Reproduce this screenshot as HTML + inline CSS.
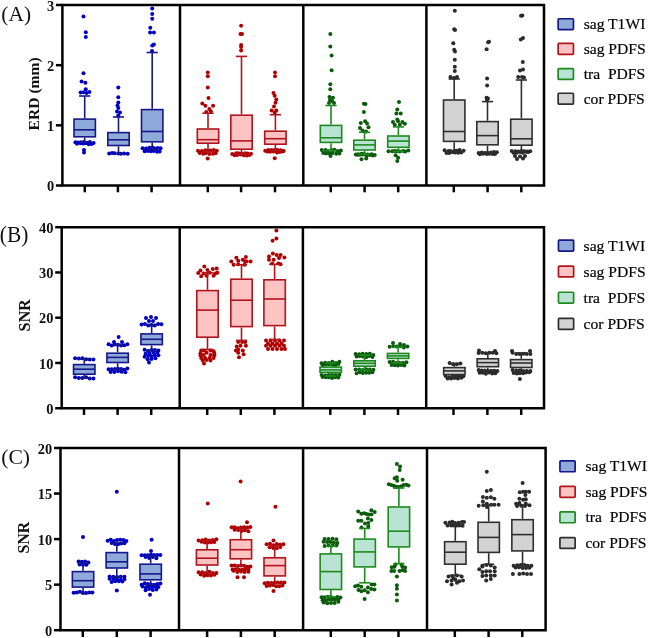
<!DOCTYPE html>
<html><head><meta charset="utf-8"><style>
html,body{margin:0;padding:0;background:#fff;}
body{width:649px;height:638px;overflow:hidden;}
svg{display:block;will-change:transform;}
.tl{font-family:"Liberation Serif",serif;font-weight:bold;font-size:14.4px;text-anchor:end;fill:#111;}
.lg{font-family:"Liberation Serif",serif;font-size:15.6px;fill:#000;stroke:#000;stroke-width:0.2px;}
.pl{font-family:"Liberation Serif",serif;font-size:21px;fill:#111;}
.yt{font-family:"Liberation Serif",serif;font-weight:bold;font-size:15.6px;fill:#111;text-anchor:middle;}
</style></head><body>
<svg width="649" height="638" viewBox="0 0 649 638">
<path d="M62.40,5.00 H544.00 V185.50 H62.40 Z" fill="none" stroke="#000" stroke-width="2.5"/>
<line x1="180.00" y1="5.00" x2="180.00" y2="185.50" stroke="#000" stroke-width="2.5"/>
<line x1="303.30" y1="5.00" x2="303.30" y2="185.50" stroke="#000" stroke-width="2.5"/>
<line x1="426.40" y1="5.00" x2="426.40" y2="185.50" stroke="#000" stroke-width="2.5"/>
<line x1="55.90" y1="185.50" x2="62.40" y2="185.50" stroke="#000" stroke-width="2.5"/>
<text x="54.10" y="191.10" class="tl">0</text>
<line x1="55.90" y1="125.33" x2="62.40" y2="125.33" stroke="#000" stroke-width="2.5"/>
<text x="54.10" y="130.93" class="tl">1</text>
<line x1="55.90" y1="65.17" x2="62.40" y2="65.17" stroke="#000" stroke-width="2.5"/>
<text x="54.10" y="70.77" class="tl">2</text>
<line x1="55.90" y1="5.00" x2="62.40" y2="5.00" stroke="#000" stroke-width="2.5"/>
<text x="54.10" y="10.60" class="tl">3</text>
<line x1="84.80" y1="185.50" x2="84.80" y2="192.30" stroke="#000" stroke-width="2.5"/>
<line x1="117.90" y1="185.50" x2="117.90" y2="192.30" stroke="#000" stroke-width="2.5"/>
<line x1="151.60" y1="185.50" x2="151.60" y2="192.30" stroke="#000" stroke-width="2.5"/>
<line x1="207.80" y1="185.50" x2="207.80" y2="192.30" stroke="#000" stroke-width="2.5"/>
<line x1="241.10" y1="185.50" x2="241.10" y2="192.30" stroke="#000" stroke-width="2.5"/>
<line x1="275.00" y1="185.50" x2="275.00" y2="192.30" stroke="#000" stroke-width="2.5"/>
<line x1="330.80" y1="185.50" x2="330.80" y2="192.30" stroke="#000" stroke-width="2.5"/>
<line x1="364.60" y1="185.50" x2="364.60" y2="192.30" stroke="#000" stroke-width="2.5"/>
<line x1="398.20" y1="185.50" x2="398.20" y2="192.30" stroke="#000" stroke-width="2.5"/>
<line x1="453.80" y1="185.50" x2="453.80" y2="192.30" stroke="#000" stroke-width="2.5"/>
<line x1="487.60" y1="185.50" x2="487.60" y2="192.30" stroke="#000" stroke-width="2.5"/>
<line x1="521.30" y1="185.50" x2="521.30" y2="192.30" stroke="#000" stroke-width="2.5"/>
<text transform="translate(1.3,20.9) scale(1.02,1.03)" class="pl">(A)</text>
<text transform="translate(39.3,93.8) rotate(-90)" x="0" y="0" class="yt">ERD (mm)</text>
<rect x="558.15" y="18.75" width="15.30" height="10.9" rx="0.8" fill="#8eaad8" stroke="#17178c" stroke-width="1.7"/>
<text x="583.70" y="29.30" class="lg">sag T1WI</text>
<rect x="558.15" y="43.45" width="15.30" height="10.9" rx="0.8" fill="#fdc2c2" stroke="#b0141c" stroke-width="1.7"/>
<text x="583.70" y="54.00" class="lg">sag PDFS</text>
<rect x="558.15" y="68.55" width="15.30" height="10.9" rx="0.8" fill="#b9e3d3" stroke="#1e8a1e" stroke-width="1.7"/>
<text x="583.70" y="79.10" class="lg">tra&#160; PDFS</text>
<rect x="558.15" y="93.25" width="15.30" height="10.9" rx="0.8" fill="#d3d3d3" stroke="#2f2f2f" stroke-width="1.7"/>
<text x="583.70" y="103.80" class="lg">cor PDFS</text>
<circle cx="83.5" cy="16.4" r="2.0" fill="#0000c4"/><circle cx="85.8" cy="32.3" r="2.0" fill="#0000c4"/><circle cx="85.8" cy="37.0" r="2.0" fill="#0000c4"/><circle cx="83.5" cy="73.3" r="2.0" fill="#0000c4"/><circle cx="81.6" cy="81.4" r="2.0" fill="#0000c4"/><circle cx="85.4" cy="82.8" r="2.0" fill="#0000c4"/><circle cx="85.8" cy="89.3" r="2.0" fill="#0000c4"/><circle cx="80.6" cy="92.5" r="2.0" fill="#0000c4"/><circle cx="83.5" cy="92.2" r="2.0" fill="#0000c4"/><circle cx="86.5" cy="93.0" r="2.0" fill="#0000c4"/><circle cx="89.4" cy="92.1" r="2.0" fill="#0000c4"/><circle cx="75.4" cy="142.2" r="2.0" fill="#0000c4"/><circle cx="77.9" cy="142.4" r="2.0" fill="#0000c4"/><circle cx="80.8" cy="142.3" r="2.0" fill="#0000c4"/><circle cx="83.9" cy="141.9" r="2.0" fill="#0000c4"/><circle cx="87.3" cy="142.8" r="2.0" fill="#0000c4"/><circle cx="89.9" cy="142.1" r="2.0" fill="#0000c4"/><circle cx="93.6" cy="142.9" r="2.0" fill="#0000c4"/><circle cx="77.0" cy="143.7" r="2.0" fill="#0000c4"/><circle cx="80.5" cy="143.3" r="2.0" fill="#0000c4"/><circle cx="83.3" cy="143.5" r="2.0" fill="#0000c4"/><circle cx="85.5" cy="143.3" r="2.0" fill="#0000c4"/><circle cx="88.7" cy="144.2" r="2.0" fill="#0000c4"/><circle cx="91.5" cy="143.9" r="2.0" fill="#0000c4"/><circle cx="84.0" cy="150.0" r="2.0" fill="#0000c4"/><circle cx="84.0" cy="152.5" r="2.0" fill="#0000c4"/>
<line x1="84.70" y1="96.00" x2="84.70" y2="118.30" stroke="#17178c" stroke-width="1.6"/>
<line x1="84.70" y1="137.60" x2="84.70" y2="142.00" stroke="#17178c" stroke-width="1.6"/>
<line x1="79.10" y1="96.00" x2="90.30" y2="96.00" stroke="#17178c" stroke-width="1.6"/>
<line x1="79.10" y1="142.00" x2="90.30" y2="142.00" stroke="#17178c" stroke-width="1.6"/>
<rect x="74.00" y="119.10" width="21.40" height="17.70" fill="#8eaad8" stroke="#17178c" stroke-width="1.6"/>
<line x1="74.00" y1="129.80" x2="95.40" y2="129.80" stroke="#17178c" stroke-width="1.6"/>
<circle cx="118.3" cy="87.5" r="2.0" fill="#0000c4"/><circle cx="118.3" cy="97.2" r="2.0" fill="#0000c4"/><circle cx="118.3" cy="102.5" r="2.0" fill="#0000c4"/><circle cx="117.5" cy="105.5" r="2.0" fill="#0000c4"/><circle cx="118.3" cy="108.0" r="2.0" fill="#0000c4"/><circle cx="117.0" cy="111.5" r="2.0" fill="#0000c4"/><circle cx="120.0" cy="112.5" r="2.0" fill="#0000c4"/><circle cx="118.3" cy="115.5" r="2.0" fill="#0000c4"/><circle cx="109.2" cy="153.4" r="2.0" fill="#0000c4"/><circle cx="112.1" cy="153.1" r="2.0" fill="#0000c4"/><circle cx="114.6" cy="153.2" r="2.0" fill="#0000c4"/><circle cx="118.4" cy="153.5" r="2.0" fill="#0000c4"/><circle cx="121.0" cy="153.7" r="2.0" fill="#0000c4"/><circle cx="124.2" cy="153.4" r="2.0" fill="#0000c4"/><circle cx="127.7" cy="153.8" r="2.0" fill="#0000c4"/>
<line x1="118.50" y1="117.00" x2="118.50" y2="131.80" stroke="#17178c" stroke-width="1.6"/>
<line x1="118.50" y1="146.30" x2="118.50" y2="153.70" stroke="#17178c" stroke-width="1.6"/>
<line x1="112.90" y1="117.00" x2="124.10" y2="117.00" stroke="#17178c" stroke-width="1.6"/>
<line x1="112.90" y1="153.70" x2="124.10" y2="153.70" stroke="#17178c" stroke-width="1.6"/>
<rect x="107.80" y="132.60" width="21.40" height="12.90" fill="#8eaad8" stroke="#17178c" stroke-width="1.6"/>
<line x1="107.80" y1="139.80" x2="129.20" y2="139.80" stroke="#17178c" stroke-width="1.6"/>
<circle cx="152.2" cy="8.5" r="2.0" fill="#0000c4"/><circle cx="152.2" cy="14.1" r="2.0" fill="#0000c4"/><circle cx="152.2" cy="18.8" r="2.0" fill="#0000c4"/><circle cx="150.3" cy="27.8" r="2.0" fill="#0000c4"/><circle cx="150.1" cy="32.5" r="2.0" fill="#0000c4"/><circle cx="153.9" cy="32.5" r="2.0" fill="#0000c4"/><circle cx="152.3" cy="45.4" r="2.0" fill="#0000c4"/><circle cx="153.9" cy="44.5" r="2.0" fill="#0000c4"/><circle cx="152.0" cy="51.1" r="2.0" fill="#0000c4"/><circle cx="142.6" cy="148.2" r="2.0" fill="#0000c4"/><circle cx="146.0" cy="148.6" r="2.0" fill="#0000c4"/><circle cx="149.3" cy="147.8" r="2.0" fill="#0000c4"/><circle cx="152.6" cy="147.6" r="2.0" fill="#0000c4"/><circle cx="155.0" cy="148.4" r="2.0" fill="#0000c4"/><circle cx="157.7" cy="148.1" r="2.0" fill="#0000c4"/><circle cx="160.6" cy="148.3" r="2.0" fill="#0000c4"/><circle cx="144.7" cy="151.3" r="2.0" fill="#0000c4"/><circle cx="147.9" cy="151.0" r="2.0" fill="#0000c4"/><circle cx="150.8" cy="151.3" r="2.0" fill="#0000c4"/><circle cx="153.7" cy="151.1" r="2.0" fill="#0000c4"/><circle cx="157.0" cy="151.7" r="2.0" fill="#0000c4"/><circle cx="159.6" cy="151.4" r="2.0" fill="#0000c4"/>
<line x1="152.20" y1="52.50" x2="152.20" y2="108.80" stroke="#17178c" stroke-width="1.6"/>
<line x1="152.20" y1="142.60" x2="152.20" y2="149.60" stroke="#17178c" stroke-width="1.6"/>
<line x1="146.60" y1="52.50" x2="157.80" y2="52.50" stroke="#17178c" stroke-width="1.6"/>
<line x1="146.60" y1="149.60" x2="157.80" y2="149.60" stroke="#17178c" stroke-width="1.6"/>
<rect x="141.50" y="109.60" width="21.40" height="32.20" fill="#8eaad8" stroke="#17178c" stroke-width="1.6"/>
<line x1="141.50" y1="131.50" x2="162.90" y2="131.50" stroke="#17178c" stroke-width="1.6"/>
<circle cx="207.8" cy="72.4" r="2.0" fill="#b00000"/><circle cx="207.8" cy="76.2" r="2.0" fill="#b00000"/><circle cx="207.8" cy="87.5" r="2.0" fill="#b00000"/><circle cx="208.5" cy="98.1" r="2.0" fill="#b00000"/><circle cx="202.3" cy="103.5" r="2.0" fill="#b00000"/><circle cx="205.4" cy="105.8" r="2.0" fill="#b00000"/><circle cx="213.1" cy="105.8" r="2.0" fill="#b00000"/><circle cx="209.3" cy="108.9" r="2.0" fill="#b00000"/><circle cx="206.2" cy="112.0" r="2.0" fill="#b00000"/><circle cx="210.8" cy="111.2" r="2.0" fill="#b00000"/><circle cx="198.0" cy="150.7" r="2.0" fill="#b00000"/><circle cx="201.8" cy="151.1" r="2.0" fill="#b00000"/><circle cx="205.2" cy="150.2" r="2.0" fill="#b00000"/><circle cx="207.8" cy="150.7" r="2.0" fill="#b00000"/><circle cx="210.5" cy="150.5" r="2.0" fill="#b00000"/><circle cx="213.8" cy="150.0" r="2.0" fill="#b00000"/><circle cx="216.8" cy="150.8" r="2.0" fill="#b00000"/><circle cx="199.6" cy="153.1" r="2.0" fill="#b00000"/><circle cx="203.1" cy="153.8" r="2.0" fill="#b00000"/><circle cx="205.8" cy="153.3" r="2.0" fill="#b00000"/><circle cx="209.5" cy="153.9" r="2.0" fill="#b00000"/><circle cx="213.0" cy="153.8" r="2.0" fill="#b00000"/><circle cx="215.5" cy="153.3" r="2.0" fill="#b00000"/><circle cx="207.7" cy="158.5" r="2.0" fill="#b00000"/>
<line x1="208.00" y1="113.20" x2="208.00" y2="128.20" stroke="#b0141c" stroke-width="1.6"/>
<line x1="208.00" y1="144.00" x2="208.00" y2="151.50" stroke="#b0141c" stroke-width="1.6"/>
<line x1="202.40" y1="113.20" x2="213.60" y2="113.20" stroke="#b0141c" stroke-width="1.6"/>
<line x1="202.40" y1="151.50" x2="213.60" y2="151.50" stroke="#b0141c" stroke-width="1.6"/>
<rect x="197.30" y="129.00" width="21.40" height="14.20" fill="#fdc2c2" stroke="#b0141c" stroke-width="1.6"/>
<line x1="197.30" y1="139.70" x2="218.70" y2="139.70" stroke="#b0141c" stroke-width="1.6"/>
<circle cx="241.1" cy="25.8" r="2.0" fill="#b00000"/><circle cx="240.5" cy="33.9" r="2.0" fill="#b00000"/><circle cx="242.0" cy="34.0" r="2.0" fill="#b00000"/><circle cx="241.1" cy="45.1" r="2.0" fill="#b00000"/><circle cx="241.1" cy="47.0" r="2.0" fill="#b00000"/><circle cx="241.1" cy="50.4" r="2.0" fill="#b00000"/><circle cx="232.2" cy="154.1" r="2.0" fill="#b00000"/><circle cx="236.1" cy="153.2" r="2.0" fill="#b00000"/><circle cx="238.3" cy="153.3" r="2.0" fill="#b00000"/><circle cx="241.5" cy="153.6" r="2.0" fill="#b00000"/><circle cx="245.0" cy="153.3" r="2.0" fill="#b00000"/><circle cx="247.5" cy="153.5" r="2.0" fill="#b00000"/><circle cx="251.0" cy="153.7" r="2.0" fill="#b00000"/><circle cx="234.5" cy="155.2" r="2.0" fill="#b00000"/><circle cx="237.1" cy="155.1" r="2.0" fill="#b00000"/><circle cx="240.4" cy="154.5" r="2.0" fill="#b00000"/><circle cx="243.8" cy="155.3" r="2.0" fill="#b00000"/><circle cx="246.9" cy="155.4" r="2.0" fill="#b00000"/><circle cx="249.5" cy="154.9" r="2.0" fill="#b00000"/>
<line x1="241.50" y1="56.40" x2="241.50" y2="114.40" stroke="#b0141c" stroke-width="1.6"/>
<line x1="241.50" y1="150.00" x2="241.50" y2="154.30" stroke="#b0141c" stroke-width="1.6"/>
<line x1="235.90" y1="56.40" x2="247.10" y2="56.40" stroke="#b0141c" stroke-width="1.6"/>
<line x1="235.90" y1="154.30" x2="247.10" y2="154.30" stroke="#b0141c" stroke-width="1.6"/>
<rect x="230.80" y="115.20" width="21.40" height="34.00" fill="#fdc2c2" stroke="#b0141c" stroke-width="1.6"/>
<line x1="230.80" y1="140.90" x2="252.20" y2="140.90" stroke="#b0141c" stroke-width="1.6"/>
<circle cx="275.0" cy="72.4" r="2.0" fill="#b00000"/><circle cx="275.0" cy="76.2" r="2.0" fill="#b00000"/><circle cx="273.5" cy="93.1" r="2.0" fill="#b00000"/><circle cx="274.7" cy="95.8" r="2.0" fill="#b00000"/><circle cx="276.3" cy="99.6" r="2.0" fill="#b00000"/><circle cx="275.5" cy="102.7" r="2.0" fill="#b00000"/><circle cx="274.0" cy="106.6" r="2.0" fill="#b00000"/><circle cx="271.7" cy="110.4" r="2.0" fill="#b00000"/><circle cx="276.3" cy="110.4" r="2.0" fill="#b00000"/><circle cx="274.7" cy="112.7" r="2.0" fill="#b00000"/><circle cx="265.2" cy="150.7" r="2.0" fill="#b00000"/><circle cx="268.3" cy="150.0" r="2.0" fill="#b00000"/><circle cx="271.6" cy="150.1" r="2.0" fill="#b00000"/><circle cx="274.8" cy="150.0" r="2.0" fill="#b00000"/><circle cx="277.5" cy="150.1" r="2.0" fill="#b00000"/><circle cx="280.7" cy="150.3" r="2.0" fill="#b00000"/><circle cx="283.7" cy="150.9" r="2.0" fill="#b00000"/><circle cx="267.4" cy="151.5" r="2.0" fill="#b00000"/><circle cx="270.1" cy="151.7" r="2.0" fill="#b00000"/><circle cx="273.3" cy="151.4" r="2.0" fill="#b00000"/><circle cx="277.0" cy="152.5" r="2.0" fill="#b00000"/><circle cx="279.6" cy="151.9" r="2.0" fill="#b00000"/><circle cx="282.3" cy="151.4" r="2.0" fill="#b00000"/><circle cx="274.7" cy="158.2" r="2.0" fill="#b00000"/>
<line x1="275.40" y1="114.70" x2="275.40" y2="130.40" stroke="#b0141c" stroke-width="1.6"/>
<line x1="275.40" y1="145.00" x2="275.40" y2="150.50" stroke="#b0141c" stroke-width="1.6"/>
<line x1="269.80" y1="114.70" x2="281.00" y2="114.70" stroke="#b0141c" stroke-width="1.6"/>
<line x1="269.80" y1="150.50" x2="281.00" y2="150.50" stroke="#b0141c" stroke-width="1.6"/>
<rect x="264.70" y="131.20" width="21.40" height="13.00" fill="#fdc2c2" stroke="#b0141c" stroke-width="1.6"/>
<line x1="264.70" y1="138.70" x2="286.10" y2="138.70" stroke="#b0141c" stroke-width="1.6"/>
<circle cx="330.3" cy="33.9" r="2.0" fill="#0b5c0b"/><circle cx="330.3" cy="46.6" r="2.0" fill="#0b5c0b"/><circle cx="331.6" cy="55.5" r="2.0" fill="#0b5c0b"/><circle cx="331.6" cy="70.2" r="2.0" fill="#0b5c0b"/><circle cx="330.3" cy="84.3" r="2.0" fill="#0b5c0b"/><circle cx="330.3" cy="89.3" r="2.0" fill="#0b5c0b"/><circle cx="329.5" cy="96.9" r="2.0" fill="#0b5c0b"/><circle cx="333.0" cy="97.8" r="2.0" fill="#0b5c0b"/><circle cx="330.0" cy="100.0" r="2.0" fill="#0b5c0b"/><circle cx="332.0" cy="101.0" r="2.0" fill="#0b5c0b"/><circle cx="329.0" cy="103.0" r="2.0" fill="#0b5c0b"/><circle cx="334.0" cy="103.0" r="2.0" fill="#0b5c0b"/><circle cx="321.8" cy="150.1" r="2.0" fill="#0b5c0b"/><circle cx="325.5" cy="150.0" r="2.0" fill="#0b5c0b"/><circle cx="327.6" cy="150.9" r="2.0" fill="#0b5c0b"/><circle cx="331.3" cy="150.0" r="2.0" fill="#0b5c0b"/><circle cx="334.4" cy="149.8" r="2.0" fill="#0b5c0b"/><circle cx="337.5" cy="151.0" r="2.0" fill="#0b5c0b"/><circle cx="340.9" cy="150.6" r="2.0" fill="#0b5c0b"/><circle cx="323.3" cy="153.0" r="2.0" fill="#0b5c0b"/><circle cx="326.2" cy="153.5" r="2.0" fill="#0b5c0b"/><circle cx="329.7" cy="153.5" r="2.0" fill="#0b5c0b"/><circle cx="332.6" cy="152.9" r="2.0" fill="#0b5c0b"/><circle cx="336.2" cy="153.8" r="2.0" fill="#0b5c0b"/><circle cx="339.4" cy="153.6" r="2.0" fill="#0b5c0b"/><circle cx="330.5" cy="156.0" r="2.0" fill="#0b5c0b"/>
<line x1="331.00" y1="105.50" x2="331.00" y2="124.60" stroke="#1e8a1e" stroke-width="1.6"/>
<line x1="331.00" y1="143.20" x2="331.00" y2="150.50" stroke="#1e8a1e" stroke-width="1.6"/>
<line x1="325.40" y1="105.50" x2="336.60" y2="105.50" stroke="#1e8a1e" stroke-width="1.6"/>
<line x1="325.40" y1="150.50" x2="336.60" y2="150.50" stroke="#1e8a1e" stroke-width="1.6"/>
<rect x="320.30" y="125.40" width="21.40" height="17.00" fill="#b9e3d3" stroke="#1e8a1e" stroke-width="1.6"/>
<line x1="320.30" y1="137.80" x2="341.70" y2="137.80" stroke="#1e8a1e" stroke-width="1.6"/>
<circle cx="363.9" cy="103.8" r="2.0" fill="#0b5c0b"/><circle cx="365.5" cy="104.0" r="2.0" fill="#0b5c0b"/><circle cx="363.9" cy="112.0" r="2.0" fill="#0b5c0b"/><circle cx="365.1" cy="121.3" r="2.0" fill="#0b5c0b"/><circle cx="360.8" cy="123.0" r="2.0" fill="#0b5c0b"/><circle cx="367.0" cy="123.5" r="2.0" fill="#0b5c0b"/><circle cx="368.5" cy="127.2" r="2.0" fill="#0b5c0b"/><circle cx="360.0" cy="128.0" r="2.0" fill="#0b5c0b"/><circle cx="362.5" cy="130.6" r="2.0" fill="#0b5c0b"/><circle cx="366.0" cy="131.4" r="2.0" fill="#0b5c0b"/><circle cx="355.8" cy="154.6" r="2.0" fill="#0b5c0b"/><circle cx="358.2" cy="154.3" r="2.0" fill="#0b5c0b"/><circle cx="361.5" cy="153.7" r="2.0" fill="#0b5c0b"/><circle cx="364.2" cy="154.0" r="2.0" fill="#0b5c0b"/><circle cx="367.6" cy="154.5" r="2.0" fill="#0b5c0b"/><circle cx="371.6" cy="154.2" r="2.0" fill="#0b5c0b"/><circle cx="374.7" cy="154.9" r="2.0" fill="#0b5c0b"/><circle cx="357.5" cy="154.8" r="2.0" fill="#0b5c0b"/><circle cx="359.8" cy="154.7" r="2.0" fill="#0b5c0b"/><circle cx="362.9" cy="154.6" r="2.0" fill="#0b5c0b"/><circle cx="366.5" cy="155.5" r="2.0" fill="#0b5c0b"/><circle cx="369.9" cy="155.0" r="2.0" fill="#0b5c0b"/><circle cx="372.8" cy="155.4" r="2.0" fill="#0b5c0b"/><circle cx="361.5" cy="159.3" r="2.0" fill="#0b5c0b"/><circle cx="366.2" cy="158.5" r="2.0" fill="#0b5c0b"/>
<line x1="364.50" y1="132.30" x2="364.50" y2="139.40" stroke="#1e8a1e" stroke-width="1.6"/>
<line x1="364.50" y1="150.80" x2="364.50" y2="154.30" stroke="#1e8a1e" stroke-width="1.6"/>
<line x1="358.90" y1="132.30" x2="370.10" y2="132.30" stroke="#1e8a1e" stroke-width="1.6"/>
<line x1="358.90" y1="154.30" x2="370.10" y2="154.30" stroke="#1e8a1e" stroke-width="1.6"/>
<rect x="353.80" y="140.20" width="21.40" height="9.80" fill="#b9e3d3" stroke="#1e8a1e" stroke-width="1.6"/>
<line x1="353.80" y1="144.90" x2="375.20" y2="144.90" stroke="#1e8a1e" stroke-width="1.6"/>
<circle cx="399.0" cy="102.1" r="2.0" fill="#0b5c0b"/><circle cx="397.3" cy="109.4" r="2.0" fill="#0b5c0b"/><circle cx="396.4" cy="113.6" r="2.0" fill="#0b5c0b"/><circle cx="400.7" cy="113.6" r="2.0" fill="#0b5c0b"/><circle cx="393.0" cy="122.1" r="2.0" fill="#0b5c0b"/><circle cx="398.1" cy="121.3" r="2.0" fill="#0b5c0b"/><circle cx="402.4" cy="122.1" r="2.0" fill="#0b5c0b"/><circle cx="394.7" cy="124.7" r="2.0" fill="#0b5c0b"/><circle cx="399.8" cy="124.7" r="2.0" fill="#0b5c0b"/><circle cx="404.9" cy="123.8" r="2.0" fill="#0b5c0b"/><circle cx="397.3" cy="119.6" r="2.0" fill="#0b5c0b"/><circle cx="388.5" cy="151.2" r="2.0" fill="#0b5c0b"/><circle cx="392.2" cy="151.3" r="2.0" fill="#0b5c0b"/><circle cx="394.7" cy="151.0" r="2.0" fill="#0b5c0b"/><circle cx="396.8" cy="151.3" r="2.0" fill="#0b5c0b"/><circle cx="399.7" cy="151.4" r="2.0" fill="#0b5c0b"/><circle cx="403.1" cy="150.9" r="2.0" fill="#0b5c0b"/><circle cx="405.2" cy="151.5" r="2.0" fill="#0b5c0b"/><circle cx="408.3" cy="150.6" r="2.0" fill="#0b5c0b"/><circle cx="395.6" cy="155.2" r="2.0" fill="#0b5c0b"/><circle cx="398.1" cy="157.7" r="2.0" fill="#0b5c0b"/><circle cx="397.3" cy="161.1" r="2.0" fill="#0b5c0b"/>
<line x1="398.40" y1="126.90" x2="398.40" y2="135.20" stroke="#1e8a1e" stroke-width="1.6"/>
<line x1="398.40" y1="148.10" x2="398.40" y2="151.50" stroke="#1e8a1e" stroke-width="1.6"/>
<line x1="392.80" y1="126.90" x2="404.00" y2="126.90" stroke="#1e8a1e" stroke-width="1.6"/>
<line x1="392.80" y1="151.50" x2="404.00" y2="151.50" stroke="#1e8a1e" stroke-width="1.6"/>
<rect x="387.70" y="136.00" width="21.40" height="11.30" fill="#b9e3d3" stroke="#1e8a1e" stroke-width="1.6"/>
<line x1="387.70" y1="141.10" x2="409.10" y2="141.10" stroke="#1e8a1e" stroke-width="1.6"/>
<circle cx="454.8" cy="10.7" r="2.0" fill="#2b2b2b"/><circle cx="454.2" cy="29.2" r="2.0" fill="#2b2b2b"/><circle cx="455.0" cy="30.0" r="2.0" fill="#2b2b2b"/><circle cx="453.3" cy="43.3" r="2.0" fill="#2b2b2b"/><circle cx="454.2" cy="49.8" r="2.0" fill="#2b2b2b"/><circle cx="455.0" cy="51.5" r="2.0" fill="#2b2b2b"/><circle cx="454.8" cy="59.8" r="2.0" fill="#2b2b2b"/><circle cx="454.8" cy="66.8" r="2.0" fill="#2b2b2b"/><circle cx="454.8" cy="71.1" r="2.0" fill="#2b2b2b"/><circle cx="450.5" cy="77.1" r="2.0" fill="#2b2b2b"/><circle cx="457.0" cy="77.1" r="2.0" fill="#2b2b2b"/><circle cx="454.0" cy="78.0" r="2.0" fill="#2b2b2b"/><circle cx="444.6" cy="150.2" r="2.0" fill="#2b2b2b"/><circle cx="448.5" cy="151.0" r="2.0" fill="#2b2b2b"/><circle cx="450.6" cy="151.0" r="2.0" fill="#2b2b2b"/><circle cx="454.6" cy="150.8" r="2.0" fill="#2b2b2b"/><circle cx="456.8" cy="150.7" r="2.0" fill="#2b2b2b"/><circle cx="459.6" cy="150.0" r="2.0" fill="#2b2b2b"/><circle cx="463.6" cy="150.8" r="2.0" fill="#2b2b2b"/><circle cx="446.5" cy="153.1" r="2.0" fill="#2b2b2b"/><circle cx="449.4" cy="153.0" r="2.0" fill="#2b2b2b"/><circle cx="452.9" cy="152.3" r="2.0" fill="#2b2b2b"/><circle cx="455.2" cy="152.4" r="2.0" fill="#2b2b2b"/><circle cx="458.2" cy="152.7" r="2.0" fill="#2b2b2b"/><circle cx="461.2" cy="152.5" r="2.0" fill="#2b2b2b"/>
<line x1="454.20" y1="79.00" x2="454.20" y2="99.20" stroke="#2f2f2f" stroke-width="1.6"/>
<line x1="454.20" y1="142.20" x2="454.20" y2="151.10" stroke="#2f2f2f" stroke-width="1.6"/>
<line x1="448.60" y1="79.00" x2="459.80" y2="79.00" stroke="#2f2f2f" stroke-width="1.6"/>
<line x1="448.60" y1="151.10" x2="459.80" y2="151.10" stroke="#2f2f2f" stroke-width="1.6"/>
<rect x="443.50" y="100.00" width="21.40" height="41.40" fill="#d3d3d3" stroke="#2f2f2f" stroke-width="1.6"/>
<line x1="443.50" y1="131.50" x2="464.90" y2="131.50" stroke="#2f2f2f" stroke-width="1.6"/>
<circle cx="488.1" cy="42.3" r="2.0" fill="#2b2b2b"/><circle cx="489.0" cy="41.8" r="2.0" fill="#2b2b2b"/><circle cx="486.6" cy="49.3" r="2.0" fill="#2b2b2b"/><circle cx="487.1" cy="78.6" r="2.0" fill="#2b2b2b"/><circle cx="487.1" cy="85.6" r="2.0" fill="#2b2b2b"/><circle cx="486.5" cy="97.8" r="2.0" fill="#2b2b2b"/><circle cx="488.0" cy="98.5" r="2.0" fill="#2b2b2b"/><circle cx="487.0" cy="100.0" r="2.0" fill="#2b2b2b"/><circle cx="478.6" cy="153.1" r="2.0" fill="#2b2b2b"/><circle cx="481.8" cy="152.5" r="2.0" fill="#2b2b2b"/><circle cx="485.1" cy="153.1" r="2.0" fill="#2b2b2b"/><circle cx="487.9" cy="153.1" r="2.0" fill="#2b2b2b"/><circle cx="491.0" cy="152.6" r="2.0" fill="#2b2b2b"/><circle cx="494.0" cy="152.0" r="2.0" fill="#2b2b2b"/><circle cx="496.9" cy="152.2" r="2.0" fill="#2b2b2b"/><circle cx="479.9" cy="154.2" r="2.0" fill="#2b2b2b"/><circle cx="483.1" cy="153.8" r="2.0" fill="#2b2b2b"/><circle cx="486.8" cy="153.9" r="2.0" fill="#2b2b2b"/><circle cx="489.3" cy="153.8" r="2.0" fill="#2b2b2b"/><circle cx="492.6" cy="154.1" r="2.0" fill="#2b2b2b"/><circle cx="495.0" cy="153.9" r="2.0" fill="#2b2b2b"/>
<line x1="487.50" y1="101.60" x2="487.50" y2="120.80" stroke="#2f2f2f" stroke-width="1.6"/>
<line x1="487.50" y1="145.60" x2="487.50" y2="152.40" stroke="#2f2f2f" stroke-width="1.6"/>
<line x1="481.90" y1="101.60" x2="493.10" y2="101.60" stroke="#2f2f2f" stroke-width="1.6"/>
<line x1="481.90" y1="152.40" x2="493.10" y2="152.40" stroke="#2f2f2f" stroke-width="1.6"/>
<rect x="476.80" y="121.60" width="21.40" height="23.20" fill="#d3d3d3" stroke="#2f2f2f" stroke-width="1.6"/>
<line x1="476.80" y1="135.60" x2="498.20" y2="135.60" stroke="#2f2f2f" stroke-width="1.6"/>
<circle cx="522.3" cy="15.4" r="2.0" fill="#2b2b2b"/><circle cx="521.0" cy="15.8" r="2.0" fill="#2b2b2b"/><circle cx="520.8" cy="39.5" r="2.0" fill="#2b2b2b"/><circle cx="523.0" cy="38.0" r="2.0" fill="#2b2b2b"/><circle cx="522.8" cy="62.0" r="2.0" fill="#2b2b2b"/><circle cx="520.0" cy="70.5" r="2.0" fill="#2b2b2b"/><circle cx="523.0" cy="69.5" r="2.0" fill="#2b2b2b"/><circle cx="518.2" cy="77.1" r="2.0" fill="#2b2b2b"/><circle cx="522.0" cy="77.0" r="2.0" fill="#2b2b2b"/><circle cx="524.0" cy="77.5" r="2.0" fill="#2b2b2b"/><circle cx="511.7" cy="150.9" r="2.0" fill="#2b2b2b"/><circle cx="515.4" cy="151.2" r="2.0" fill="#2b2b2b"/><circle cx="518.2" cy="151.5" r="2.0" fill="#2b2b2b"/><circle cx="521.6" cy="151.1" r="2.0" fill="#2b2b2b"/><circle cx="524.3" cy="151.2" r="2.0" fill="#2b2b2b"/><circle cx="527.3" cy="151.4" r="2.0" fill="#2b2b2b"/><circle cx="530.2" cy="151.2" r="2.0" fill="#2b2b2b"/><circle cx="513.5" cy="152.7" r="2.0" fill="#2b2b2b"/><circle cx="516.8" cy="152.7" r="2.0" fill="#2b2b2b"/><circle cx="520.2" cy="151.9" r="2.0" fill="#2b2b2b"/><circle cx="522.7" cy="152.7" r="2.0" fill="#2b2b2b"/><circle cx="526.1" cy="151.8" r="2.0" fill="#2b2b2b"/><circle cx="528.3" cy="152.1" r="2.0" fill="#2b2b2b"/><circle cx="515.0" cy="156.0" r="2.0" fill="#2b2b2b"/><circle cx="520.0" cy="156.5" r="2.0" fill="#2b2b2b"/><circle cx="525.0" cy="156.0" r="2.0" fill="#2b2b2b"/><circle cx="517.0" cy="159.0" r="2.0" fill="#2b2b2b"/><circle cx="523.0" cy="158.5" r="2.0" fill="#2b2b2b"/>
<line x1="521.40" y1="80.00" x2="521.40" y2="118.40" stroke="#2f2f2f" stroke-width="1.6"/>
<line x1="521.40" y1="146.00" x2="521.40" y2="151.00" stroke="#2f2f2f" stroke-width="1.6"/>
<line x1="515.80" y1="80.00" x2="527.00" y2="80.00" stroke="#2f2f2f" stroke-width="1.6"/>
<line x1="515.80" y1="151.00" x2="527.00" y2="151.00" stroke="#2f2f2f" stroke-width="1.6"/>
<rect x="510.70" y="119.20" width="21.40" height="26.00" fill="#d3d3d3" stroke="#2f2f2f" stroke-width="1.6"/>
<line x1="510.70" y1="138.80" x2="532.10" y2="138.80" stroke="#2f2f2f" stroke-width="1.6"/>
<path d="M61.70,227.20 H544.00 V408.20 H61.70 Z" fill="none" stroke="#000" stroke-width="2.5"/>
<line x1="179.70" y1="227.20" x2="179.70" y2="408.20" stroke="#000" stroke-width="2.5"/>
<line x1="302.90" y1="227.20" x2="302.90" y2="408.20" stroke="#000" stroke-width="2.5"/>
<line x1="426.20" y1="227.20" x2="426.20" y2="408.20" stroke="#000" stroke-width="2.5"/>
<line x1="55.20" y1="408.20" x2="61.70" y2="408.20" stroke="#000" stroke-width="2.5"/>
<text x="53.40" y="413.80" class="tl">0</text>
<line x1="55.20" y1="362.95" x2="61.70" y2="362.95" stroke="#000" stroke-width="2.5"/>
<text x="53.40" y="368.55" class="tl">10</text>
<line x1="55.20" y1="317.70" x2="61.70" y2="317.70" stroke="#000" stroke-width="2.5"/>
<text x="53.40" y="323.30" class="tl">20</text>
<line x1="55.20" y1="272.45" x2="61.70" y2="272.45" stroke="#000" stroke-width="2.5"/>
<text x="53.40" y="278.05" class="tl">30</text>
<line x1="55.20" y1="227.20" x2="61.70" y2="227.20" stroke="#000" stroke-width="2.5"/>
<text x="53.40" y="232.80" class="tl">40</text>
<line x1="84.00" y1="408.20" x2="84.00" y2="415.00" stroke="#000" stroke-width="2.5"/>
<line x1="117.60" y1="408.20" x2="117.60" y2="415.00" stroke="#000" stroke-width="2.5"/>
<line x1="151.20" y1="408.20" x2="151.20" y2="415.00" stroke="#000" stroke-width="2.5"/>
<line x1="207.20" y1="408.20" x2="207.20" y2="415.00" stroke="#000" stroke-width="2.5"/>
<line x1="240.80" y1="408.20" x2="240.80" y2="415.00" stroke="#000" stroke-width="2.5"/>
<line x1="274.40" y1="408.20" x2="274.40" y2="415.00" stroke="#000" stroke-width="2.5"/>
<line x1="330.30" y1="408.20" x2="330.30" y2="415.00" stroke="#000" stroke-width="2.5"/>
<line x1="364.40" y1="408.20" x2="364.40" y2="415.00" stroke="#000" stroke-width="2.5"/>
<line x1="398.00" y1="408.20" x2="398.00" y2="415.00" stroke="#000" stroke-width="2.5"/>
<line x1="453.50" y1="408.20" x2="453.50" y2="415.00" stroke="#000" stroke-width="2.5"/>
<line x1="487.40" y1="408.20" x2="487.40" y2="415.00" stroke="#000" stroke-width="2.5"/>
<line x1="521.20" y1="408.20" x2="521.20" y2="415.00" stroke="#000" stroke-width="2.5"/>
<text transform="translate(-0.2,241.6) scale(1.02,1.07)" class="pl">(B)</text>
<text transform="translate(30.4,315.4) rotate(-90) scale(1.04,1.04)" x="0" y="0" class="yt">SNR</text>
<rect x="558.45" y="240.15" width="15.20" height="10.9" rx="0.8" fill="#8eaad8" stroke="#17178c" stroke-width="1.7"/>
<text x="583.60" y="250.70" class="lg">sag T1WI</text>
<rect x="558.45" y="266.05" width="15.20" height="10.9" rx="0.8" fill="#fdc2c2" stroke="#b0141c" stroke-width="1.7"/>
<text x="583.60" y="276.60" class="lg">sag PDFS</text>
<rect x="558.45" y="292.25" width="15.20" height="10.9" rx="0.8" fill="#b9e3d3" stroke="#1e8a1e" stroke-width="1.7"/>
<text x="583.60" y="302.80" class="lg">tra&#160; PDFS</text>
<rect x="558.45" y="318.45" width="15.20" height="10.9" rx="0.8" fill="#d3d3d3" stroke="#2f2f2f" stroke-width="1.7"/>
<text x="583.60" y="329.00" class="lg">cor PDFS</text>
<circle cx="75.1" cy="358.3" r="2.0" fill="#0000c4"/><circle cx="78.8" cy="358.6" r="2.0" fill="#0000c4"/><circle cx="82.4" cy="358.3" r="2.0" fill="#0000c4"/><circle cx="86.1" cy="359.3" r="2.0" fill="#0000c4"/><circle cx="89.7" cy="359.5" r="2.0" fill="#0000c4"/><circle cx="93.4" cy="359.6" r="2.0" fill="#0000c4"/><circle cx="75.1" cy="377.2" r="2.0" fill="#0000c4"/><circle cx="78.8" cy="378.1" r="2.0" fill="#0000c4"/><circle cx="82.4" cy="378.1" r="2.0" fill="#0000c4"/><circle cx="86.1" cy="377.2" r="2.0" fill="#0000c4"/><circle cx="89.7" cy="378.4" r="2.0" fill="#0000c4"/><circle cx="93.4" cy="378.5" r="2.0" fill="#0000c4"/>
<line x1="84.25" y1="359.00" x2="84.25" y2="363.80" stroke="#17178c" stroke-width="1.6"/>
<line x1="84.25" y1="375.00" x2="84.25" y2="377.80" stroke="#17178c" stroke-width="1.6"/>
<line x1="78.65" y1="359.00" x2="89.85" y2="359.00" stroke="#17178c" stroke-width="1.6"/>
<line x1="78.65" y1="377.80" x2="89.85" y2="377.80" stroke="#17178c" stroke-width="1.6"/>
<rect x="73.55" y="364.60" width="21.40" height="9.60" fill="#8eaad8" stroke="#17178c" stroke-width="1.6"/>
<line x1="73.55" y1="369.20" x2="94.95" y2="369.20" stroke="#17178c" stroke-width="1.6"/>
<circle cx="118.6" cy="337.0" r="2.0" fill="#0000c4"/><circle cx="108.6" cy="344.3" r="2.0" fill="#0000c4"/><circle cx="111.7" cy="345.4" r="2.0" fill="#0000c4"/><circle cx="114.9" cy="344.5" r="2.0" fill="#0000c4"/><circle cx="118.0" cy="344.7" r="2.0" fill="#0000c4"/><circle cx="121.1" cy="345.5" r="2.0" fill="#0000c4"/><circle cx="124.3" cy="345.2" r="2.0" fill="#0000c4"/><circle cx="127.4" cy="344.2" r="2.0" fill="#0000c4"/><circle cx="114.0" cy="342.0" r="2.0" fill="#0000c4"/><circle cx="122.0" cy="342.0" r="2.0" fill="#0000c4"/><circle cx="108.6" cy="369.2" r="2.0" fill="#0000c4"/><circle cx="111.7" cy="369.3" r="2.0" fill="#0000c4"/><circle cx="114.9" cy="369.0" r="2.0" fill="#0000c4"/><circle cx="118.0" cy="368.8" r="2.0" fill="#0000c4"/><circle cx="121.1" cy="369.0" r="2.0" fill="#0000c4"/><circle cx="124.3" cy="369.7" r="2.0" fill="#0000c4"/><circle cx="127.4" cy="368.5" r="2.0" fill="#0000c4"/><circle cx="110.6" cy="372.1" r="2.0" fill="#0000c4"/><circle cx="114.3" cy="371.9" r="2.0" fill="#0000c4"/><circle cx="118.0" cy="371.2" r="2.0" fill="#0000c4"/><circle cx="121.7" cy="371.7" r="2.0" fill="#0000c4"/><circle cx="125.4" cy="372.2" r="2.0" fill="#0000c4"/>
<line x1="117.60" y1="344.70" x2="117.60" y2="352.40" stroke="#17178c" stroke-width="1.6"/>
<line x1="117.60" y1="363.30" x2="117.60" y2="369.30" stroke="#17178c" stroke-width="1.6"/>
<line x1="112.00" y1="344.70" x2="123.20" y2="344.70" stroke="#17178c" stroke-width="1.6"/>
<line x1="112.00" y1="369.30" x2="123.20" y2="369.30" stroke="#17178c" stroke-width="1.6"/>
<rect x="106.90" y="353.20" width="21.40" height="9.30" fill="#8eaad8" stroke="#17178c" stroke-width="1.6"/>
<line x1="106.90" y1="357.40" x2="128.30" y2="357.40" stroke="#17178c" stroke-width="1.6"/>
<circle cx="146.0" cy="318.0" r="2.0" fill="#0000c4"/><circle cx="151.0" cy="317.0" r="2.0" fill="#0000c4"/><circle cx="156.0" cy="318.0" r="2.0" fill="#0000c4"/><circle cx="149.0" cy="321.0" r="2.0" fill="#0000c4"/><circle cx="153.0" cy="321.0" r="2.0" fill="#0000c4"/><circle cx="141.6" cy="324.6" r="2.0" fill="#0000c4"/><circle cx="144.9" cy="323.9" r="2.0" fill="#0000c4"/><circle cx="148.2" cy="325.4" r="2.0" fill="#0000c4"/><circle cx="151.5" cy="325.1" r="2.0" fill="#0000c4"/><circle cx="154.8" cy="325.4" r="2.0" fill="#0000c4"/><circle cx="158.1" cy="324.0" r="2.0" fill="#0000c4"/><circle cx="161.4" cy="324.2" r="2.0" fill="#0000c4"/><circle cx="144.6" cy="349.8" r="2.0" fill="#0000c4"/><circle cx="148.1" cy="350.9" r="2.0" fill="#0000c4"/><circle cx="151.5" cy="350.1" r="2.0" fill="#0000c4"/><circle cx="154.9" cy="349.9" r="2.0" fill="#0000c4"/><circle cx="158.4" cy="350.4" r="2.0" fill="#0000c4"/><circle cx="145.6" cy="353.7" r="2.0" fill="#0000c4"/><circle cx="149.5" cy="353.5" r="2.0" fill="#0000c4"/><circle cx="153.5" cy="352.6" r="2.0" fill="#0000c4"/><circle cx="157.4" cy="352.4" r="2.0" fill="#0000c4"/><circle cx="144.6" cy="356.7" r="2.0" fill="#0000c4"/><circle cx="148.1" cy="356.1" r="2.0" fill="#0000c4"/><circle cx="151.5" cy="356.3" r="2.0" fill="#0000c4"/><circle cx="154.9" cy="355.3" r="2.0" fill="#0000c4"/><circle cx="158.4" cy="355.3" r="2.0" fill="#0000c4"/><circle cx="147.6" cy="359.3" r="2.0" fill="#0000c4"/><circle cx="151.5" cy="358.9" r="2.0" fill="#0000c4"/><circle cx="155.4" cy="358.3" r="2.0" fill="#0000c4"/><circle cx="149.0" cy="362.4" r="2.0" fill="#0000c4"/>
<line x1="151.65" y1="324.60" x2="151.65" y2="333.10" stroke="#17178c" stroke-width="1.6"/>
<line x1="151.65" y1="345.40" x2="151.65" y2="350.50" stroke="#17178c" stroke-width="1.6"/>
<line x1="146.05" y1="324.60" x2="157.25" y2="324.60" stroke="#17178c" stroke-width="1.6"/>
<line x1="146.05" y1="350.50" x2="157.25" y2="350.50" stroke="#17178c" stroke-width="1.6"/>
<rect x="140.95" y="333.90" width="21.40" height="10.70" fill="#8eaad8" stroke="#17178c" stroke-width="1.6"/>
<line x1="140.95" y1="339.30" x2="162.35" y2="339.30" stroke="#17178c" stroke-width="1.6"/>
<circle cx="204.3" cy="266.6" r="2.0" fill="#b00000"/><circle cx="200.5" cy="270.5" r="2.0" fill="#b00000"/><circle cx="207.4" cy="270.0" r="2.0" fill="#b00000"/><circle cx="212.8" cy="268.9" r="2.0" fill="#b00000"/><circle cx="216.7" cy="268.5" r="2.0" fill="#b00000"/><circle cx="198.2" cy="273.1" r="2.0" fill="#b00000"/><circle cx="203.6" cy="273.5" r="2.0" fill="#b00000"/><circle cx="209.7" cy="272.8" r="2.0" fill="#b00000"/><circle cx="215.1" cy="273.5" r="2.0" fill="#b00000"/><circle cx="201.2" cy="276.2" r="2.0" fill="#b00000"/><circle cx="206.6" cy="275.8" r="2.0" fill="#b00000"/><circle cx="213.6" cy="275.8" r="2.0" fill="#b00000"/><circle cx="217.4" cy="272.8" r="2.0" fill="#b00000"/><circle cx="201.2" cy="350.4" r="2.0" fill="#b00000"/><circle cx="204.3" cy="350.4" r="2.0" fill="#b00000"/><circle cx="210.5" cy="350.4" r="2.0" fill="#b00000"/><circle cx="213.6" cy="351.2" r="2.0" fill="#b00000"/><circle cx="200.5" cy="353.2" r="2.0" fill="#b00000"/><circle cx="206.6" cy="352.7" r="2.0" fill="#b00000"/><circle cx="214.3" cy="353.5" r="2.0" fill="#b00000"/><circle cx="200.5" cy="355.3" r="2.0" fill="#b00000"/><circle cx="203.6" cy="355.0" r="2.0" fill="#b00000"/><circle cx="210.5" cy="355.0" r="2.0" fill="#b00000"/><circle cx="214.3" cy="355.3" r="2.0" fill="#b00000"/><circle cx="201.2" cy="358.1" r="2.0" fill="#b00000"/><circle cx="205.1" cy="358.1" r="2.0" fill="#b00000"/><circle cx="209.7" cy="358.1" r="2.0" fill="#b00000"/><circle cx="213.6" cy="358.1" r="2.0" fill="#b00000"/><circle cx="202.8" cy="360.4" r="2.0" fill="#b00000"/><circle cx="206.6" cy="360.0" r="2.0" fill="#b00000"/><circle cx="210.5" cy="360.4" r="2.0" fill="#b00000"/><circle cx="204.0" cy="363.5" r="2.0" fill="#b00000"/>
<line x1="207.50" y1="272.80" x2="207.50" y2="289.80" stroke="#b0141c" stroke-width="1.6"/>
<line x1="207.50" y1="338.00" x2="207.50" y2="349.50" stroke="#b0141c" stroke-width="1.6"/>
<line x1="201.90" y1="272.80" x2="213.10" y2="272.80" stroke="#b0141c" stroke-width="1.6"/>
<line x1="201.90" y1="349.50" x2="213.10" y2="349.50" stroke="#b0141c" stroke-width="1.6"/>
<rect x="196.80" y="290.60" width="21.40" height="46.60" fill="#fdc2c2" stroke="#b0141c" stroke-width="1.6"/>
<line x1="196.80" y1="310.10" x2="218.20" y2="310.10" stroke="#b0141c" stroke-width="1.6"/>
<circle cx="236.4" cy="257.7" r="2.0" fill="#b00000"/><circle cx="245.9" cy="257.0" r="2.0" fill="#b00000"/><circle cx="242.8" cy="259.7" r="2.0" fill="#b00000"/><circle cx="231.3" cy="261.5" r="2.0" fill="#b00000"/><circle cx="238.2" cy="260.7" r="2.0" fill="#b00000"/><circle cx="245.2" cy="261.2" r="2.0" fill="#b00000"/><circle cx="250.6" cy="261.5" r="2.0" fill="#b00000"/><circle cx="233.6" cy="264.8" r="2.0" fill="#b00000"/><circle cx="238.2" cy="264.3" r="2.0" fill="#b00000"/><circle cx="244.4" cy="264.8" r="2.0" fill="#b00000"/><circle cx="246.7" cy="261.5" r="2.0" fill="#b00000"/><circle cx="238.2" cy="341.9" r="2.0" fill="#b00000"/><circle cx="242.1" cy="341.9" r="2.0" fill="#b00000"/><circle cx="245.2" cy="341.9" r="2.0" fill="#b00000"/><circle cx="236.7" cy="346.6" r="2.0" fill="#b00000"/><circle cx="245.9" cy="345.8" r="2.0" fill="#b00000"/><circle cx="240.5" cy="345.8" r="2.0" fill="#b00000"/><circle cx="238.2" cy="349.6" r="2.0" fill="#b00000"/><circle cx="242.8" cy="350.4" r="2.0" fill="#b00000"/><circle cx="238.2" cy="352.7" r="2.0" fill="#b00000"/><circle cx="243.6" cy="354.3" r="2.0" fill="#b00000"/><circle cx="239.0" cy="357.3" r="2.0" fill="#b00000"/><circle cx="235.9" cy="350.4" r="2.0" fill="#b00000"/>
<line x1="241.50" y1="264.80" x2="241.50" y2="278.40" stroke="#b0141c" stroke-width="1.6"/>
<line x1="241.50" y1="327.40" x2="241.50" y2="340.40" stroke="#b0141c" stroke-width="1.6"/>
<line x1="235.90" y1="264.80" x2="247.10" y2="264.80" stroke="#b0141c" stroke-width="1.6"/>
<line x1="235.90" y1="340.40" x2="247.10" y2="340.40" stroke="#b0141c" stroke-width="1.6"/>
<rect x="230.80" y="279.20" width="21.40" height="47.40" fill="#fdc2c2" stroke="#b0141c" stroke-width="1.6"/>
<line x1="230.80" y1="300.20" x2="252.20" y2="300.20" stroke="#b0141c" stroke-width="1.6"/>
<circle cx="276.4" cy="230.4" r="2.0" fill="#b00000"/><circle cx="276.4" cy="238.6" r="2.0" fill="#b00000"/><circle cx="272.6" cy="240.7" r="2.0" fill="#b00000"/><circle cx="272.9" cy="253.5" r="2.0" fill="#b00000"/><circle cx="269.0" cy="256.6" r="2.0" fill="#b00000"/><circle cx="276.7" cy="255.0" r="2.0" fill="#b00000"/><circle cx="280.6" cy="255.0" r="2.0" fill="#b00000"/><circle cx="284.4" cy="257.4" r="2.0" fill="#b00000"/><circle cx="269.0" cy="259.7" r="2.0" fill="#b00000"/><circle cx="273.7" cy="259.7" r="2.0" fill="#b00000"/><circle cx="279.0" cy="258.1" r="2.0" fill="#b00000"/><circle cx="272.1" cy="263.5" r="2.0" fill="#b00000"/><circle cx="278.3" cy="263.5" r="2.0" fill="#b00000"/><circle cx="280.6" cy="264.3" r="2.0" fill="#b00000"/><circle cx="266.0" cy="340.4" r="2.0" fill="#b00000"/><circle cx="270.5" cy="340.4" r="2.0" fill="#b00000"/><circle cx="275.0" cy="340.4" r="2.0" fill="#b00000"/><circle cx="279.5" cy="340.4" r="2.0" fill="#b00000"/><circle cx="284.0" cy="340.4" r="2.0" fill="#b00000"/><circle cx="268.0" cy="343.5" r="2.0" fill="#b00000"/><circle cx="272.5" cy="343.5" r="2.0" fill="#b00000"/><circle cx="277.0" cy="343.5" r="2.0" fill="#b00000"/><circle cx="281.5" cy="343.5" r="2.0" fill="#b00000"/><circle cx="266.0" cy="345.8" r="2.0" fill="#b00000"/><circle cx="270.5" cy="345.8" r="2.0" fill="#b00000"/><circle cx="275.0" cy="345.8" r="2.0" fill="#b00000"/><circle cx="279.5" cy="345.8" r="2.0" fill="#b00000"/><circle cx="284.0" cy="345.8" r="2.0" fill="#b00000"/><circle cx="268.0" cy="348.9" r="2.0" fill="#b00000"/><circle cx="272.5" cy="348.9" r="2.0" fill="#b00000"/><circle cx="277.0" cy="348.9" r="2.0" fill="#b00000"/><circle cx="281.5" cy="348.9" r="2.0" fill="#b00000"/><circle cx="285.0" cy="348.9" r="2.0" fill="#b00000"/>
<line x1="274.60" y1="264.30" x2="274.60" y2="279.00" stroke="#b0141c" stroke-width="1.6"/>
<line x1="274.60" y1="326.40" x2="274.60" y2="339.50" stroke="#b0141c" stroke-width="1.6"/>
<line x1="269.00" y1="264.30" x2="280.20" y2="264.30" stroke="#b0141c" stroke-width="1.6"/>
<line x1="269.00" y1="339.50" x2="280.20" y2="339.50" stroke="#b0141c" stroke-width="1.6"/>
<rect x="263.90" y="279.80" width="21.40" height="45.80" fill="#fdc2c2" stroke="#b0141c" stroke-width="1.6"/>
<line x1="263.90" y1="299.00" x2="285.30" y2="299.00" stroke="#b0141c" stroke-width="1.6"/>
<circle cx="321.6" cy="363.2" r="2.0" fill="#0b5c0b"/><circle cx="325.2" cy="362.7" r="2.0" fill="#0b5c0b"/><circle cx="328.7" cy="363.0" r="2.0" fill="#0b5c0b"/><circle cx="332.3" cy="361.8" r="2.0" fill="#0b5c0b"/><circle cx="335.8" cy="363.1" r="2.0" fill="#0b5c0b"/><circle cx="339.4" cy="361.8" r="2.0" fill="#0b5c0b"/><circle cx="322.6" cy="365.1" r="2.0" fill="#0b5c0b"/><circle cx="325.8" cy="364.4" r="2.0" fill="#0b5c0b"/><circle cx="328.9" cy="364.2" r="2.0" fill="#0b5c0b"/><circle cx="332.1" cy="364.6" r="2.0" fill="#0b5c0b"/><circle cx="335.2" cy="365.2" r="2.0" fill="#0b5c0b"/><circle cx="338.4" cy="364.1" r="2.0" fill="#0b5c0b"/><circle cx="321.6" cy="374.9" r="2.0" fill="#0b5c0b"/><circle cx="325.2" cy="375.5" r="2.0" fill="#0b5c0b"/><circle cx="328.7" cy="375.1" r="2.0" fill="#0b5c0b"/><circle cx="332.3" cy="374.9" r="2.0" fill="#0b5c0b"/><circle cx="335.8" cy="375.0" r="2.0" fill="#0b5c0b"/><circle cx="339.4" cy="374.8" r="2.0" fill="#0b5c0b"/><circle cx="322.6" cy="377.0" r="2.0" fill="#0b5c0b"/><circle cx="325.8" cy="377.2" r="2.0" fill="#0b5c0b"/><circle cx="328.9" cy="377.2" r="2.0" fill="#0b5c0b"/><circle cx="332.1" cy="377.9" r="2.0" fill="#0b5c0b"/><circle cx="335.2" cy="377.2" r="2.0" fill="#0b5c0b"/><circle cx="338.4" cy="377.5" r="2.0" fill="#0b5c0b"/>
<line x1="330.70" y1="363.00" x2="330.70" y2="366.30" stroke="#1e8a1e" stroke-width="1.6"/>
<line x1="330.70" y1="373.20" x2="330.70" y2="376.00" stroke="#1e8a1e" stroke-width="1.6"/>
<line x1="325.10" y1="363.00" x2="336.30" y2="363.00" stroke="#1e8a1e" stroke-width="1.6"/>
<line x1="325.10" y1="376.00" x2="336.30" y2="376.00" stroke="#1e8a1e" stroke-width="1.6"/>
<rect x="320.00" y="367.10" width="21.40" height="5.30" fill="#b9e3d3" stroke="#1e8a1e" stroke-width="1.6"/>
<line x1="320.00" y1="369.90" x2="341.40" y2="369.90" stroke="#1e8a1e" stroke-width="1.6"/>
<circle cx="355.6" cy="354.0" r="2.0" fill="#0b5c0b"/><circle cx="359.2" cy="354.3" r="2.0" fill="#0b5c0b"/><circle cx="362.7" cy="353.7" r="2.0" fill="#0b5c0b"/><circle cx="366.3" cy="354.1" r="2.0" fill="#0b5c0b"/><circle cx="369.8" cy="353.7" r="2.0" fill="#0b5c0b"/><circle cx="373.4" cy="354.9" r="2.0" fill="#0b5c0b"/><circle cx="356.6" cy="356.6" r="2.0" fill="#0b5c0b"/><circle cx="359.8" cy="356.0" r="2.0" fill="#0b5c0b"/><circle cx="362.9" cy="356.5" r="2.0" fill="#0b5c0b"/><circle cx="366.1" cy="357.2" r="2.0" fill="#0b5c0b"/><circle cx="369.2" cy="355.9" r="2.0" fill="#0b5c0b"/><circle cx="372.4" cy="357.0" r="2.0" fill="#0b5c0b"/><circle cx="355.6" cy="369.4" r="2.0" fill="#0b5c0b"/><circle cx="359.2" cy="369.5" r="2.0" fill="#0b5c0b"/><circle cx="362.7" cy="370.0" r="2.0" fill="#0b5c0b"/><circle cx="366.3" cy="369.3" r="2.0" fill="#0b5c0b"/><circle cx="369.8" cy="369.5" r="2.0" fill="#0b5c0b"/><circle cx="373.4" cy="369.8" r="2.0" fill="#0b5c0b"/><circle cx="356.6" cy="373.3" r="2.0" fill="#0b5c0b"/><circle cx="359.8" cy="372.2" r="2.0" fill="#0b5c0b"/><circle cx="362.9" cy="373.0" r="2.0" fill="#0b5c0b"/><circle cx="366.1" cy="372.8" r="2.0" fill="#0b5c0b"/><circle cx="369.2" cy="372.7" r="2.0" fill="#0b5c0b"/><circle cx="372.4" cy="372.3" r="2.0" fill="#0b5c0b"/>
<line x1="364.50" y1="355.00" x2="364.50" y2="360.00" stroke="#1e8a1e" stroke-width="1.6"/>
<line x1="364.50" y1="367.00" x2="364.50" y2="370.00" stroke="#1e8a1e" stroke-width="1.6"/>
<line x1="358.90" y1="355.00" x2="370.10" y2="355.00" stroke="#1e8a1e" stroke-width="1.6"/>
<line x1="358.90" y1="370.00" x2="370.10" y2="370.00" stroke="#1e8a1e" stroke-width="1.6"/>
<rect x="353.80" y="360.80" width="21.40" height="5.40" fill="#b9e3d3" stroke="#1e8a1e" stroke-width="1.6"/>
<line x1="353.80" y1="363.30" x2="375.20" y2="363.30" stroke="#1e8a1e" stroke-width="1.6"/>
<circle cx="393.0" cy="343.0" r="2.0" fill="#0b5c0b"/><circle cx="400.0" cy="344.0" r="2.0" fill="#0b5c0b"/><circle cx="404.0" cy="345.0" r="2.0" fill="#0b5c0b"/><circle cx="389.6" cy="346.8" r="2.0" fill="#0b5c0b"/><circle cx="393.2" cy="346.3" r="2.0" fill="#0b5c0b"/><circle cx="396.7" cy="346.4" r="2.0" fill="#0b5c0b"/><circle cx="400.3" cy="346.3" r="2.0" fill="#0b5c0b"/><circle cx="403.8" cy="347.4" r="2.0" fill="#0b5c0b"/><circle cx="407.4" cy="346.6" r="2.0" fill="#0b5c0b"/><circle cx="389.6" cy="362.0" r="2.0" fill="#0b5c0b"/><circle cx="393.0" cy="361.8" r="2.0" fill="#0b5c0b"/><circle cx="396.3" cy="363.0" r="2.0" fill="#0b5c0b"/><circle cx="399.7" cy="363.1" r="2.0" fill="#0b5c0b"/><circle cx="403.0" cy="362.8" r="2.0" fill="#0b5c0b"/><circle cx="406.4" cy="362.2" r="2.0" fill="#0b5c0b"/><circle cx="391.6" cy="365.1" r="2.0" fill="#0b5c0b"/><circle cx="394.8" cy="365.2" r="2.0" fill="#0b5c0b"/><circle cx="398.0" cy="365.4" r="2.0" fill="#0b5c0b"/><circle cx="401.2" cy="365.0" r="2.0" fill="#0b5c0b"/><circle cx="404.4" cy="365.4" r="2.0" fill="#0b5c0b"/>
<line x1="398.10" y1="347.00" x2="398.10" y2="352.60" stroke="#1e8a1e" stroke-width="1.6"/>
<line x1="398.10" y1="359.20" x2="398.10" y2="363.00" stroke="#1e8a1e" stroke-width="1.6"/>
<line x1="392.50" y1="347.00" x2="403.70" y2="347.00" stroke="#1e8a1e" stroke-width="1.6"/>
<line x1="392.50" y1="363.00" x2="403.70" y2="363.00" stroke="#1e8a1e" stroke-width="1.6"/>
<rect x="387.40" y="353.40" width="21.40" height="5.00" fill="#b9e3d3" stroke="#1e8a1e" stroke-width="1.6"/>
<line x1="387.40" y1="355.90" x2="408.80" y2="355.90" stroke="#1e8a1e" stroke-width="1.6"/>
<circle cx="449.6" cy="363.1" r="2.0" fill="#2b2b2b"/><circle cx="453.2" cy="364.2" r="2.0" fill="#2b2b2b"/><circle cx="456.8" cy="364.3" r="2.0" fill="#2b2b2b"/><circle cx="460.4" cy="363.6" r="2.0" fill="#2b2b2b"/><circle cx="445.6" cy="376.1" r="2.0" fill="#2b2b2b"/><circle cx="449.2" cy="377.2" r="2.0" fill="#2b2b2b"/><circle cx="452.7" cy="376.2" r="2.0" fill="#2b2b2b"/><circle cx="456.3" cy="376.3" r="2.0" fill="#2b2b2b"/><circle cx="459.8" cy="375.7" r="2.0" fill="#2b2b2b"/><circle cx="463.4" cy="376.3" r="2.0" fill="#2b2b2b"/><circle cx="447.6" cy="378.5" r="2.0" fill="#2b2b2b"/><circle cx="451.1" cy="378.5" r="2.0" fill="#2b2b2b"/><circle cx="454.5" cy="378.0" r="2.0" fill="#2b2b2b"/><circle cx="457.9" cy="378.5" r="2.0" fill="#2b2b2b"/><circle cx="461.4" cy="377.7" r="2.0" fill="#2b2b2b"/>
<line x1="454.35" y1="363.50" x2="454.35" y2="366.80" stroke="#2f2f2f" stroke-width="1.6"/>
<line x1="454.35" y1="375.40" x2="454.35" y2="377.00" stroke="#2f2f2f" stroke-width="1.6"/>
<line x1="448.75" y1="363.50" x2="459.95" y2="363.50" stroke="#2f2f2f" stroke-width="1.6"/>
<line x1="448.75" y1="377.00" x2="459.95" y2="377.00" stroke="#2f2f2f" stroke-width="1.6"/>
<rect x="443.65" y="367.60" width="21.40" height="7.00" fill="#d3d3d3" stroke="#2f2f2f" stroke-width="1.6"/>
<line x1="443.65" y1="370.90" x2="465.05" y2="370.90" stroke="#2f2f2f" stroke-width="1.6"/>
<circle cx="479.0" cy="350.5" r="2.0" fill="#2b2b2b"/><circle cx="495.0" cy="351.0" r="2.0" fill="#2b2b2b"/><circle cx="478.6" cy="353.1" r="2.0" fill="#2b2b2b"/><circle cx="482.2" cy="352.8" r="2.0" fill="#2b2b2b"/><circle cx="485.7" cy="353.3" r="2.0" fill="#2b2b2b"/><circle cx="489.3" cy="352.8" r="2.0" fill="#2b2b2b"/><circle cx="492.8" cy="352.7" r="2.0" fill="#2b2b2b"/><circle cx="496.4" cy="353.2" r="2.0" fill="#2b2b2b"/><circle cx="478.6" cy="370.1" r="2.0" fill="#2b2b2b"/><circle cx="481.7" cy="370.6" r="2.0" fill="#2b2b2b"/><circle cx="484.9" cy="370.5" r="2.0" fill="#2b2b2b"/><circle cx="488.0" cy="370.9" r="2.0" fill="#2b2b2b"/><circle cx="491.1" cy="370.8" r="2.0" fill="#2b2b2b"/><circle cx="494.3" cy="370.8" r="2.0" fill="#2b2b2b"/><circle cx="497.4" cy="371.1" r="2.0" fill="#2b2b2b"/><circle cx="479.6" cy="372.8" r="2.0" fill="#2b2b2b"/><circle cx="482.8" cy="372.7" r="2.0" fill="#2b2b2b"/><circle cx="485.9" cy="373.8" r="2.0" fill="#2b2b2b"/><circle cx="489.1" cy="372.4" r="2.0" fill="#2b2b2b"/><circle cx="492.2" cy="373.4" r="2.0" fill="#2b2b2b"/><circle cx="495.4" cy="373.2" r="2.0" fill="#2b2b2b"/>
<line x1="487.80" y1="353.00" x2="487.80" y2="358.00" stroke="#2f2f2f" stroke-width="1.6"/>
<line x1="487.80" y1="367.50" x2="487.80" y2="371.00" stroke="#2f2f2f" stroke-width="1.6"/>
<line x1="482.20" y1="353.00" x2="493.40" y2="353.00" stroke="#2f2f2f" stroke-width="1.6"/>
<line x1="482.20" y1="371.00" x2="493.40" y2="371.00" stroke="#2f2f2f" stroke-width="1.6"/>
<rect x="477.10" y="358.80" width="21.40" height="7.90" fill="#d3d3d3" stroke="#2f2f2f" stroke-width="1.6"/>
<line x1="477.10" y1="362.60" x2="498.50" y2="362.60" stroke="#2f2f2f" stroke-width="1.6"/>
<circle cx="512.0" cy="351.0" r="2.0" fill="#2b2b2b"/><circle cx="530.0" cy="351.0" r="2.0" fill="#2b2b2b"/><circle cx="512.6" cy="352.8" r="2.0" fill="#2b2b2b"/><circle cx="516.2" cy="354.0" r="2.0" fill="#2b2b2b"/><circle cx="519.7" cy="354.1" r="2.0" fill="#2b2b2b"/><circle cx="523.3" cy="353.7" r="2.0" fill="#2b2b2b"/><circle cx="526.8" cy="353.9" r="2.0" fill="#2b2b2b"/><circle cx="530.4" cy="354.0" r="2.0" fill="#2b2b2b"/><circle cx="512.6" cy="369.9" r="2.0" fill="#2b2b2b"/><circle cx="516.2" cy="370.5" r="2.0" fill="#2b2b2b"/><circle cx="519.7" cy="370.5" r="2.0" fill="#2b2b2b"/><circle cx="523.3" cy="371.0" r="2.0" fill="#2b2b2b"/><circle cx="526.8" cy="371.0" r="2.0" fill="#2b2b2b"/><circle cx="530.4" cy="371.0" r="2.0" fill="#2b2b2b"/><circle cx="513.6" cy="373.1" r="2.0" fill="#2b2b2b"/><circle cx="516.8" cy="373.6" r="2.0" fill="#2b2b2b"/><circle cx="519.9" cy="373.3" r="2.0" fill="#2b2b2b"/><circle cx="523.1" cy="373.3" r="2.0" fill="#2b2b2b"/><circle cx="526.2" cy="372.6" r="2.0" fill="#2b2b2b"/><circle cx="529.4" cy="372.2" r="2.0" fill="#2b2b2b"/><circle cx="519.9" cy="379.0" r="2.0" fill="#2b2b2b"/>
<line x1="521.25" y1="353.00" x2="521.25" y2="358.80" stroke="#2f2f2f" stroke-width="1.6"/>
<line x1="521.25" y1="368.30" x2="521.25" y2="371.00" stroke="#2f2f2f" stroke-width="1.6"/>
<line x1="515.65" y1="353.00" x2="526.85" y2="353.00" stroke="#2f2f2f" stroke-width="1.6"/>
<line x1="515.65" y1="371.00" x2="526.85" y2="371.00" stroke="#2f2f2f" stroke-width="1.6"/>
<rect x="510.55" y="359.60" width="21.40" height="7.90" fill="#d3d3d3" stroke="#2f2f2f" stroke-width="1.6"/>
<line x1="510.55" y1="363.00" x2="531.95" y2="363.00" stroke="#2f2f2f" stroke-width="1.6"/>
<path d="M60.50,448.00 H545.60 V630.20 H60.50 Z" fill="none" stroke="#000" stroke-width="2.5"/>
<line x1="179.00" y1="448.00" x2="179.00" y2="630.20" stroke="#000" stroke-width="2.5"/>
<line x1="303.10" y1="448.00" x2="303.10" y2="630.20" stroke="#000" stroke-width="2.5"/>
<line x1="427.00" y1="448.00" x2="427.00" y2="630.20" stroke="#000" stroke-width="2.5"/>
<line x1="54.00" y1="630.20" x2="60.50" y2="630.20" stroke="#000" stroke-width="2.5"/>
<text x="52.20" y="635.80" class="tl">0</text>
<line x1="54.00" y1="584.65" x2="60.50" y2="584.65" stroke="#000" stroke-width="2.5"/>
<text x="52.20" y="590.25" class="tl">5</text>
<line x1="54.00" y1="539.10" x2="60.50" y2="539.10" stroke="#000" stroke-width="2.5"/>
<text x="52.20" y="544.70" class="tl">10</text>
<line x1="54.00" y1="493.55" x2="60.50" y2="493.55" stroke="#000" stroke-width="2.5"/>
<text x="52.20" y="499.15" class="tl">15</text>
<line x1="54.00" y1="448.00" x2="60.50" y2="448.00" stroke="#000" stroke-width="2.5"/>
<text x="52.20" y="453.60" class="tl">20</text>
<line x1="82.80" y1="630.20" x2="82.80" y2="637.00" stroke="#000" stroke-width="2.5"/>
<line x1="116.80" y1="630.20" x2="116.80" y2="637.00" stroke="#000" stroke-width="2.5"/>
<line x1="150.60" y1="630.20" x2="150.60" y2="637.00" stroke="#000" stroke-width="2.5"/>
<line x1="207.10" y1="630.20" x2="207.10" y2="637.00" stroke="#000" stroke-width="2.5"/>
<line x1="240.90" y1="630.20" x2="240.90" y2="637.00" stroke="#000" stroke-width="2.5"/>
<line x1="274.70" y1="630.20" x2="274.70" y2="637.00" stroke="#000" stroke-width="2.5"/>
<line x1="330.80" y1="630.20" x2="330.80" y2="637.00" stroke="#000" stroke-width="2.5"/>
<line x1="364.70" y1="630.20" x2="364.70" y2="637.00" stroke="#000" stroke-width="2.5"/>
<line x1="398.50" y1="630.20" x2="398.50" y2="637.00" stroke="#000" stroke-width="2.5"/>
<line x1="454.80" y1="630.20" x2="454.80" y2="637.00" stroke="#000" stroke-width="2.5"/>
<line x1="488.60" y1="630.20" x2="488.60" y2="637.00" stroke="#000" stroke-width="2.5"/>
<line x1="522.30" y1="630.20" x2="522.30" y2="637.00" stroke="#000" stroke-width="2.5"/>
<text transform="translate(1.2,464.2) scale(1.03,1.03)" class="pl">(C)</text>
<text transform="translate(29.1,537.6) rotate(-90) scale(1.02,1.03)" x="0" y="0" class="yt">SNR</text>
<rect x="559.95" y="460.85" width="15.20" height="10.9" rx="0.8" fill="#8eaad8" stroke="#17178c" stroke-width="1.7"/>
<text x="585.40" y="471.40" class="lg">sag T1WI</text>
<rect x="559.95" y="486.45" width="15.20" height="10.9" rx="0.8" fill="#fdc2c2" stroke="#b0141c" stroke-width="1.7"/>
<text x="585.40" y="497.00" class="lg">sag PDFS</text>
<rect x="559.95" y="511.85" width="15.20" height="10.9" rx="0.8" fill="#b9e3d3" stroke="#1e8a1e" stroke-width="1.7"/>
<text x="585.40" y="522.40" class="lg">tra&#160; PDFS</text>
<rect x="559.95" y="537.55" width="15.20" height="10.9" rx="0.8" fill="#d3d3d3" stroke="#2f2f2f" stroke-width="1.7"/>
<text x="585.40" y="548.10" class="lg">cor PDFS</text>
<circle cx="83.0" cy="537.0" r="2.0" fill="#0000c4"/><circle cx="78.6" cy="561.4" r="2.0" fill="#0000c4"/><circle cx="81.9" cy="561.8" r="2.0" fill="#0000c4"/><circle cx="85.1" cy="561.4" r="2.0" fill="#0000c4"/><circle cx="88.4" cy="562.5" r="2.0" fill="#0000c4"/><circle cx="79.6" cy="564.6" r="2.0" fill="#0000c4"/><circle cx="83.0" cy="564.7" r="2.0" fill="#0000c4"/><circle cx="86.4" cy="564.7" r="2.0" fill="#0000c4"/><circle cx="73.6" cy="592.8" r="2.0" fill="#0000c4"/><circle cx="76.7" cy="592.5" r="2.0" fill="#0000c4"/><circle cx="79.9" cy="591.7" r="2.0" fill="#0000c4"/><circle cx="83.0" cy="593.0" r="2.0" fill="#0000c4"/><circle cx="86.1" cy="592.9" r="2.0" fill="#0000c4"/><circle cx="89.3" cy="592.5" r="2.0" fill="#0000c4"/><circle cx="92.4" cy="592.6" r="2.0" fill="#0000c4"/>
<line x1="83.05" y1="563.00" x2="83.05" y2="570.80" stroke="#17178c" stroke-width="1.6"/>
<line x1="83.05" y1="587.90" x2="83.05" y2="592.50" stroke="#17178c" stroke-width="1.6"/>
<line x1="77.45" y1="563.00" x2="88.65" y2="563.00" stroke="#17178c" stroke-width="1.6"/>
<line x1="77.45" y1="592.50" x2="88.65" y2="592.50" stroke="#17178c" stroke-width="1.6"/>
<rect x="72.35" y="571.60" width="21.40" height="15.50" fill="#8eaad8" stroke="#17178c" stroke-width="1.6"/>
<line x1="72.35" y1="580.70" x2="93.75" y2="580.70" stroke="#17178c" stroke-width="1.6"/>
<circle cx="116.8" cy="491.8" r="2.0" fill="#0000c4"/><circle cx="107.6" cy="540.8" r="2.0" fill="#0000c4"/><circle cx="110.7" cy="539.8" r="2.0" fill="#0000c4"/><circle cx="113.9" cy="540.9" r="2.0" fill="#0000c4"/><circle cx="117.0" cy="540.1" r="2.0" fill="#0000c4"/><circle cx="120.1" cy="539.8" r="2.0" fill="#0000c4"/><circle cx="123.3" cy="540.1" r="2.0" fill="#0000c4"/><circle cx="126.4" cy="540.9" r="2.0" fill="#0000c4"/><circle cx="111.6" cy="543.0" r="2.0" fill="#0000c4"/><circle cx="114.8" cy="543.9" r="2.0" fill="#0000c4"/><circle cx="118.0" cy="544.3" r="2.0" fill="#0000c4"/><circle cx="121.2" cy="543.5" r="2.0" fill="#0000c4"/><circle cx="124.4" cy="543.3" r="2.0" fill="#0000c4"/><circle cx="109.6" cy="576.5" r="2.0" fill="#0000c4"/><circle cx="113.3" cy="576.8" r="2.0" fill="#0000c4"/><circle cx="117.0" cy="576.9" r="2.0" fill="#0000c4"/><circle cx="120.7" cy="576.7" r="2.0" fill="#0000c4"/><circle cx="124.4" cy="576.7" r="2.0" fill="#0000c4"/><circle cx="109.6" cy="578.8" r="2.0" fill="#0000c4"/><circle cx="113.3" cy="578.9" r="2.0" fill="#0000c4"/><circle cx="117.0" cy="579.1" r="2.0" fill="#0000c4"/><circle cx="120.7" cy="579.9" r="2.0" fill="#0000c4"/><circle cx="124.4" cy="579.2" r="2.0" fill="#0000c4"/><circle cx="111.6" cy="582.1" r="2.0" fill="#0000c4"/><circle cx="115.2" cy="581.2" r="2.0" fill="#0000c4"/><circle cx="118.8" cy="581.3" r="2.0" fill="#0000c4"/><circle cx="122.4" cy="581.6" r="2.0" fill="#0000c4"/><circle cx="116.8" cy="590.6" r="2.0" fill="#0000c4"/>
<line x1="116.80" y1="543.00" x2="116.80" y2="551.80" stroke="#17178c" stroke-width="1.6"/>
<line x1="116.80" y1="568.80" x2="116.80" y2="577.00" stroke="#17178c" stroke-width="1.6"/>
<line x1="111.20" y1="543.00" x2="122.40" y2="543.00" stroke="#17178c" stroke-width="1.6"/>
<line x1="111.20" y1="577.00" x2="122.40" y2="577.00" stroke="#17178c" stroke-width="1.6"/>
<rect x="106.10" y="552.60" width="21.40" height="15.40" fill="#8eaad8" stroke="#17178c" stroke-width="1.6"/>
<line x1="106.10" y1="561.80" x2="127.50" y2="561.80" stroke="#17178c" stroke-width="1.6"/>
<circle cx="151.6" cy="539.8" r="2.0" fill="#0000c4"/><circle cx="151.0" cy="551.0" r="2.0" fill="#0000c4"/><circle cx="141.6" cy="555.3" r="2.0" fill="#0000c4"/><circle cx="144.7" cy="555.3" r="2.0" fill="#0000c4"/><circle cx="147.9" cy="555.3" r="2.0" fill="#0000c4"/><circle cx="151.0" cy="554.7" r="2.0" fill="#0000c4"/><circle cx="154.1" cy="555.0" r="2.0" fill="#0000c4"/><circle cx="157.3" cy="554.9" r="2.0" fill="#0000c4"/><circle cx="160.4" cy="554.9" r="2.0" fill="#0000c4"/><circle cx="145.6" cy="556.9" r="2.0" fill="#0000c4"/><circle cx="149.2" cy="558.1" r="2.0" fill="#0000c4"/><circle cx="152.8" cy="557.0" r="2.0" fill="#0000c4"/><circle cx="156.4" cy="558.3" r="2.0" fill="#0000c4"/><circle cx="141.6" cy="584.7" r="2.0" fill="#0000c4"/><circle cx="144.7" cy="583.2" r="2.0" fill="#0000c4"/><circle cx="147.9" cy="583.9" r="2.0" fill="#0000c4"/><circle cx="151.0" cy="584.5" r="2.0" fill="#0000c4"/><circle cx="154.1" cy="584.7" r="2.0" fill="#0000c4"/><circle cx="157.3" cy="583.9" r="2.0" fill="#0000c4"/><circle cx="160.4" cy="583.6" r="2.0" fill="#0000c4"/><circle cx="142.6" cy="586.5" r="2.0" fill="#0000c4"/><circle cx="145.8" cy="587.7" r="2.0" fill="#0000c4"/><circle cx="148.9" cy="586.5" r="2.0" fill="#0000c4"/><circle cx="152.1" cy="587.1" r="2.0" fill="#0000c4"/><circle cx="155.2" cy="586.4" r="2.0" fill="#0000c4"/><circle cx="158.4" cy="587.0" r="2.0" fill="#0000c4"/><circle cx="145.6" cy="590.2" r="2.0" fill="#0000c4"/><circle cx="149.2" cy="588.9" r="2.0" fill="#0000c4"/><circle cx="152.8" cy="590.0" r="2.0" fill="#0000c4"/><circle cx="156.4" cy="589.5" r="2.0" fill="#0000c4"/><circle cx="150.0" cy="594.7" r="2.0" fill="#0000c4"/>
<line x1="150.65" y1="556.00" x2="150.65" y2="563.40" stroke="#17178c" stroke-width="1.6"/>
<line x1="150.65" y1="580.60" x2="150.65" y2="585.00" stroke="#17178c" stroke-width="1.6"/>
<line x1="145.05" y1="556.00" x2="156.25" y2="556.00" stroke="#17178c" stroke-width="1.6"/>
<line x1="145.05" y1="585.00" x2="156.25" y2="585.00" stroke="#17178c" stroke-width="1.6"/>
<rect x="139.95" y="564.20" width="21.40" height="15.60" fill="#8eaad8" stroke="#17178c" stroke-width="1.6"/>
<line x1="139.95" y1="573.90" x2="161.35" y2="573.90" stroke="#17178c" stroke-width="1.6"/>
<circle cx="207.8" cy="503.5" r="2.0" fill="#b00000"/><circle cx="198.6" cy="540.6" r="2.0" fill="#b00000"/><circle cx="202.2" cy="540.3" r="2.0" fill="#b00000"/><circle cx="205.7" cy="539.6" r="2.0" fill="#b00000"/><circle cx="209.3" cy="540.6" r="2.0" fill="#b00000"/><circle cx="212.8" cy="540.0" r="2.0" fill="#b00000"/><circle cx="216.4" cy="539.2" r="2.0" fill="#b00000"/><circle cx="201.6" cy="541.7" r="2.0" fill="#b00000"/><circle cx="204.8" cy="542.5" r="2.0" fill="#b00000"/><circle cx="208.0" cy="542.4" r="2.0" fill="#b00000"/><circle cx="211.2" cy="542.2" r="2.0" fill="#b00000"/><circle cx="214.4" cy="541.9" r="2.0" fill="#b00000"/><circle cx="198.6" cy="572.3" r="2.0" fill="#b00000"/><circle cx="202.2" cy="572.2" r="2.0" fill="#b00000"/><circle cx="205.7" cy="573.0" r="2.0" fill="#b00000"/><circle cx="209.3" cy="571.7" r="2.0" fill="#b00000"/><circle cx="212.8" cy="572.9" r="2.0" fill="#b00000"/><circle cx="216.4" cy="573.0" r="2.0" fill="#b00000"/><circle cx="200.6" cy="574.4" r="2.0" fill="#b00000"/><circle cx="204.1" cy="575.7" r="2.0" fill="#b00000"/><circle cx="207.5" cy="575.3" r="2.0" fill="#b00000"/><circle cx="210.9" cy="575.6" r="2.0" fill="#b00000"/><circle cx="214.4" cy="574.7" r="2.0" fill="#b00000"/>
<line x1="207.10" y1="541.00" x2="207.10" y2="549.00" stroke="#b0141c" stroke-width="1.6"/>
<line x1="207.10" y1="565.80" x2="207.10" y2="573.00" stroke="#b0141c" stroke-width="1.6"/>
<line x1="201.50" y1="541.00" x2="212.70" y2="541.00" stroke="#b0141c" stroke-width="1.6"/>
<line x1="201.50" y1="573.00" x2="212.70" y2="573.00" stroke="#b0141c" stroke-width="1.6"/>
<rect x="196.40" y="549.80" width="21.40" height="15.20" fill="#fdc2c2" stroke="#b0141c" stroke-width="1.6"/>
<line x1="196.40" y1="558.20" x2="217.80" y2="558.20" stroke="#b0141c" stroke-width="1.6"/>
<circle cx="240.6" cy="481.5" r="2.0" fill="#b00000"/><circle cx="247.0" cy="522.3" r="2.0" fill="#b00000"/><circle cx="231.6" cy="527.3" r="2.0" fill="#b00000"/><circle cx="234.7" cy="527.3" r="2.0" fill="#b00000"/><circle cx="237.9" cy="528.3" r="2.0" fill="#b00000"/><circle cx="241.0" cy="527.6" r="2.0" fill="#b00000"/><circle cx="244.1" cy="527.3" r="2.0" fill="#b00000"/><circle cx="247.3" cy="527.4" r="2.0" fill="#b00000"/><circle cx="250.4" cy="527.1" r="2.0" fill="#b00000"/><circle cx="234.6" cy="529.8" r="2.0" fill="#b00000"/><circle cx="238.1" cy="529.9" r="2.0" fill="#b00000"/><circle cx="241.5" cy="531.0" r="2.0" fill="#b00000"/><circle cx="244.9" cy="530.2" r="2.0" fill="#b00000"/><circle cx="248.4" cy="531.2" r="2.0" fill="#b00000"/><circle cx="231.6" cy="565.6" r="2.0" fill="#b00000"/><circle cx="234.7" cy="565.6" r="2.0" fill="#b00000"/><circle cx="237.9" cy="566.0" r="2.0" fill="#b00000"/><circle cx="241.0" cy="565.5" r="2.0" fill="#b00000"/><circle cx="244.1" cy="565.8" r="2.0" fill="#b00000"/><circle cx="247.3" cy="566.7" r="2.0" fill="#b00000"/><circle cx="250.4" cy="566.6" r="2.0" fill="#b00000"/><circle cx="232.6" cy="569.5" r="2.0" fill="#b00000"/><circle cx="235.8" cy="569.2" r="2.0" fill="#b00000"/><circle cx="238.9" cy="569.7" r="2.0" fill="#b00000"/><circle cx="242.1" cy="569.7" r="2.0" fill="#b00000"/><circle cx="245.2" cy="569.1" r="2.0" fill="#b00000"/><circle cx="248.4" cy="569.4" r="2.0" fill="#b00000"/><circle cx="233.6" cy="570.8" r="2.0" fill="#b00000"/><circle cx="237.3" cy="571.9" r="2.0" fill="#b00000"/><circle cx="241.0" cy="571.4" r="2.0" fill="#b00000"/><circle cx="244.7" cy="571.9" r="2.0" fill="#b00000"/><circle cx="248.4" cy="571.7" r="2.0" fill="#b00000"/><circle cx="237.5" cy="577.2" r="2.0" fill="#b00000"/><circle cx="244.0" cy="577.2" r="2.0" fill="#b00000"/>
<line x1="240.90" y1="529.00" x2="240.90" y2="538.90" stroke="#b0141c" stroke-width="1.6"/>
<line x1="240.90" y1="559.60" x2="240.90" y2="566.00" stroke="#b0141c" stroke-width="1.6"/>
<line x1="235.30" y1="529.00" x2="246.50" y2="529.00" stroke="#b0141c" stroke-width="1.6"/>
<line x1="235.30" y1="566.00" x2="246.50" y2="566.00" stroke="#b0141c" stroke-width="1.6"/>
<rect x="230.20" y="539.70" width="21.40" height="19.10" fill="#fdc2c2" stroke="#b0141c" stroke-width="1.6"/>
<line x1="230.20" y1="549.70" x2="251.60" y2="549.70" stroke="#b0141c" stroke-width="1.6"/>
<circle cx="275.5" cy="506.7" r="2.0" fill="#b00000"/><circle cx="273.5" cy="540.6" r="2.0" fill="#b00000"/><circle cx="266.6" cy="544.2" r="2.0" fill="#b00000"/><circle cx="270.0" cy="543.8" r="2.0" fill="#b00000"/><circle cx="273.3" cy="545.2" r="2.0" fill="#b00000"/><circle cx="276.7" cy="543.9" r="2.0" fill="#b00000"/><circle cx="280.0" cy="544.5" r="2.0" fill="#b00000"/><circle cx="283.4" cy="544.2" r="2.0" fill="#b00000"/><circle cx="269.6" cy="547.2" r="2.0" fill="#b00000"/><circle cx="273.2" cy="547.9" r="2.0" fill="#b00000"/><circle cx="276.8" cy="548.3" r="2.0" fill="#b00000"/><circle cx="280.4" cy="547.1" r="2.0" fill="#b00000"/><circle cx="264.6" cy="583.2" r="2.0" fill="#b00000"/><circle cx="267.9" cy="582.7" r="2.0" fill="#b00000"/><circle cx="271.2" cy="583.1" r="2.0" fill="#b00000"/><circle cx="274.5" cy="582.8" r="2.0" fill="#b00000"/><circle cx="277.8" cy="582.5" r="2.0" fill="#b00000"/><circle cx="281.1" cy="582.5" r="2.0" fill="#b00000"/><circle cx="284.4" cy="582.5" r="2.0" fill="#b00000"/><circle cx="266.6" cy="586.1" r="2.0" fill="#b00000"/><circle cx="269.8" cy="585.5" r="2.0" fill="#b00000"/><circle cx="272.9" cy="585.1" r="2.0" fill="#b00000"/><circle cx="276.1" cy="586.2" r="2.0" fill="#b00000"/><circle cx="279.2" cy="586.3" r="2.0" fill="#b00000"/><circle cx="282.4" cy="585.4" r="2.0" fill="#b00000"/><circle cx="273.5" cy="591.0" r="2.0" fill="#b00000"/>
<line x1="274.70" y1="546.00" x2="274.70" y2="557.00" stroke="#b0141c" stroke-width="1.6"/>
<line x1="274.70" y1="576.70" x2="274.70" y2="583.50" stroke="#b0141c" stroke-width="1.6"/>
<line x1="269.10" y1="546.00" x2="280.30" y2="546.00" stroke="#b0141c" stroke-width="1.6"/>
<line x1="269.10" y1="583.50" x2="280.30" y2="583.50" stroke="#b0141c" stroke-width="1.6"/>
<rect x="264.00" y="557.80" width="21.40" height="18.10" fill="#fdc2c2" stroke="#b0141c" stroke-width="1.6"/>
<line x1="264.00" y1="565.60" x2="285.40" y2="565.60" stroke="#b0141c" stroke-width="1.6"/>
<circle cx="324.6" cy="538.9" r="2.0" fill="#0b5c0b"/><circle cx="328.5" cy="539.0" r="2.0" fill="#0b5c0b"/><circle cx="332.5" cy="538.8" r="2.0" fill="#0b5c0b"/><circle cx="336.4" cy="539.2" r="2.0" fill="#0b5c0b"/><circle cx="323.6" cy="541.8" r="2.0" fill="#0b5c0b"/><circle cx="327.1" cy="542.1" r="2.0" fill="#0b5c0b"/><circle cx="330.5" cy="542.1" r="2.0" fill="#0b5c0b"/><circle cx="333.9" cy="542.6" r="2.0" fill="#0b5c0b"/><circle cx="337.4" cy="543.1" r="2.0" fill="#0b5c0b"/><circle cx="324.6" cy="545.9" r="2.0" fill="#0b5c0b"/><circle cx="328.5" cy="545.4" r="2.0" fill="#0b5c0b"/><circle cx="332.5" cy="545.4" r="2.0" fill="#0b5c0b"/><circle cx="336.4" cy="545.5" r="2.0" fill="#0b5c0b"/><circle cx="321.6" cy="597.3" r="2.0" fill="#0b5c0b"/><circle cx="324.7" cy="597.2" r="2.0" fill="#0b5c0b"/><circle cx="327.9" cy="596.8" r="2.0" fill="#0b5c0b"/><circle cx="331.0" cy="597.1" r="2.0" fill="#0b5c0b"/><circle cx="334.1" cy="598.2" r="2.0" fill="#0b5c0b"/><circle cx="337.3" cy="596.9" r="2.0" fill="#0b5c0b"/><circle cx="340.4" cy="597.5" r="2.0" fill="#0b5c0b"/><circle cx="322.6" cy="600.2" r="2.0" fill="#0b5c0b"/><circle cx="325.8" cy="600.6" r="2.0" fill="#0b5c0b"/><circle cx="328.9" cy="599.5" r="2.0" fill="#0b5c0b"/><circle cx="332.1" cy="599.6" r="2.0" fill="#0b5c0b"/><circle cx="335.2" cy="599.6" r="2.0" fill="#0b5c0b"/><circle cx="338.4" cy="599.8" r="2.0" fill="#0b5c0b"/><circle cx="323.6" cy="602.4" r="2.0" fill="#0b5c0b"/><circle cx="327.3" cy="603.2" r="2.0" fill="#0b5c0b"/><circle cx="331.0" cy="603.1" r="2.0" fill="#0b5c0b"/><circle cx="334.7" cy="603.1" r="2.0" fill="#0b5c0b"/><circle cx="338.4" cy="601.7" r="2.0" fill="#0b5c0b"/>
<line x1="330.85" y1="546.00" x2="330.85" y2="553.10" stroke="#1e8a1e" stroke-width="1.6"/>
<line x1="330.85" y1="590.30" x2="330.85" y2="597.00" stroke="#1e8a1e" stroke-width="1.6"/>
<line x1="325.25" y1="546.00" x2="336.45" y2="546.00" stroke="#1e8a1e" stroke-width="1.6"/>
<line x1="325.25" y1="597.00" x2="336.45" y2="597.00" stroke="#1e8a1e" stroke-width="1.6"/>
<rect x="320.15" y="553.90" width="21.40" height="35.60" fill="#b9e3d3" stroke="#1e8a1e" stroke-width="1.6"/>
<line x1="320.15" y1="571.60" x2="341.55" y2="571.60" stroke="#1e8a1e" stroke-width="1.6"/>
<circle cx="358.2" cy="511.6" r="2.0" fill="#0b5c0b"/><circle cx="361.3" cy="513.7" r="2.0" fill="#0b5c0b"/><circle cx="364.1" cy="513.2" r="2.0" fill="#0b5c0b"/><circle cx="366.5" cy="513.9" r="2.0" fill="#0b5c0b"/><circle cx="368.8" cy="514.4" r="2.0" fill="#0b5c0b"/><circle cx="371.4" cy="510.2" r="2.0" fill="#0b5c0b"/><circle cx="371.4" cy="514.6" r="2.0" fill="#0b5c0b"/><circle cx="374.7" cy="512.1" r="2.0" fill="#0b5c0b"/><circle cx="358.2" cy="520.7" r="2.0" fill="#0b5c0b"/><circle cx="361.3" cy="520.7" r="2.0" fill="#0b5c0b"/><circle cx="367.9" cy="518.6" r="2.0" fill="#0b5c0b"/><circle cx="371.4" cy="520.0" r="2.0" fill="#0b5c0b"/><circle cx="365.0" cy="523.6" r="2.0" fill="#0b5c0b"/><circle cx="368.3" cy="522.9" r="2.0" fill="#0b5c0b"/><circle cx="368.3" cy="526.4" r="2.0" fill="#0b5c0b"/><circle cx="361.5" cy="527.6" r="2.0" fill="#0b5c0b"/><circle cx="355.2" cy="586.3" r="2.0" fill="#0b5c0b"/><circle cx="358.0" cy="585.6" r="2.0" fill="#0b5c0b"/><circle cx="361.3" cy="586.8" r="2.0" fill="#0b5c0b"/><circle cx="358.5" cy="590.0" r="2.0" fill="#0b5c0b"/><circle cx="361.3" cy="591.2" r="2.0" fill="#0b5c0b"/><circle cx="364.6" cy="590.3" r="2.0" fill="#0b5c0b"/><circle cx="367.9" cy="587.5" r="2.0" fill="#0b5c0b"/><circle cx="367.9" cy="592.2" r="2.0" fill="#0b5c0b"/><circle cx="371.2" cy="589.1" r="2.0" fill="#0b5c0b"/><circle cx="371.6" cy="584.6" r="2.0" fill="#0b5c0b"/><circle cx="374.4" cy="584.6" r="2.0" fill="#0b5c0b"/><circle cx="374.4" cy="589.6" r="2.0" fill="#0b5c0b"/><circle cx="364.6" cy="599.0" r="2.0" fill="#0b5c0b"/>
<line x1="364.70" y1="528.40" x2="364.70" y2="538.30" stroke="#1e8a1e" stroke-width="1.6"/>
<line x1="364.70" y1="567.70" x2="364.70" y2="582.80" stroke="#1e8a1e" stroke-width="1.6"/>
<line x1="359.10" y1="528.40" x2="370.30" y2="528.40" stroke="#1e8a1e" stroke-width="1.6"/>
<line x1="359.10" y1="582.80" x2="370.30" y2="582.80" stroke="#1e8a1e" stroke-width="1.6"/>
<rect x="354.00" y="539.10" width="21.40" height="27.80" fill="#b9e3d3" stroke="#1e8a1e" stroke-width="1.6"/>
<line x1="354.00" y1="551.90" x2="375.40" y2="551.90" stroke="#1e8a1e" stroke-width="1.6"/>
<circle cx="396.9" cy="464.1" r="2.0" fill="#0b5c0b"/><circle cx="400.1" cy="466.6" r="2.0" fill="#0b5c0b"/><circle cx="399.7" cy="470.0" r="2.0" fill="#0b5c0b"/><circle cx="394.7" cy="478.2" r="2.0" fill="#0b5c0b"/><circle cx="396.9" cy="477.3" r="2.0" fill="#0b5c0b"/><circle cx="397.2" cy="480.7" r="2.0" fill="#0b5c0b"/><circle cx="402.6" cy="479.8" r="2.0" fill="#0b5c0b"/><circle cx="388.8" cy="484.2" r="2.0" fill="#0b5c0b"/><circle cx="391.3" cy="485.1" r="2.0" fill="#0b5c0b"/><circle cx="393.8" cy="485.7" r="2.0" fill="#0b5c0b"/><circle cx="396.3" cy="486.7" r="2.0" fill="#0b5c0b"/><circle cx="398.8" cy="487.0" r="2.0" fill="#0b5c0b"/><circle cx="401.3" cy="486.3" r="2.0" fill="#0b5c0b"/><circle cx="403.8" cy="485.1" r="2.0" fill="#0b5c0b"/><circle cx="406.3" cy="484.8" r="2.0" fill="#0b5c0b"/><circle cx="408.5" cy="485.4" r="2.0" fill="#0b5c0b"/><circle cx="395.0" cy="487.0" r="2.0" fill="#0b5c0b"/><circle cx="391.8" cy="567.2" r="2.0" fill="#0b5c0b"/><circle cx="394.5" cy="566.8" r="2.0" fill="#0b5c0b"/><circle cx="391.4" cy="571.1" r="2.0" fill="#0b5c0b"/><circle cx="394.1" cy="571.1" r="2.0" fill="#0b5c0b"/><circle cx="399.6" cy="571.1" r="2.0" fill="#0b5c0b"/><circle cx="402.4" cy="566.8" r="2.0" fill="#0b5c0b"/><circle cx="405.1" cy="567.5" r="2.0" fill="#0b5c0b"/><circle cx="402.7" cy="570.3" r="2.0" fill="#0b5c0b"/><circle cx="405.1" cy="571.1" r="2.0" fill="#0b5c0b"/><circle cx="395.5" cy="564.5" r="2.0" fill="#0b5c0b"/><circle cx="401.5" cy="564.5" r="2.0" fill="#0b5c0b"/><circle cx="396.9" cy="576.6" r="2.0" fill="#0b5c0b"/><circle cx="396.9" cy="585.2" r="2.0" fill="#0b5c0b"/><circle cx="396.9" cy="588.7" r="2.0" fill="#0b5c0b"/><circle cx="396.9" cy="594.6" r="2.0" fill="#0b5c0b"/><circle cx="396.9" cy="600.5" r="2.0" fill="#0b5c0b"/>
<line x1="398.90" y1="488.00" x2="398.90" y2="506.20" stroke="#1e8a1e" stroke-width="1.6"/>
<line x1="398.90" y1="547.70" x2="398.90" y2="563.60" stroke="#1e8a1e" stroke-width="1.6"/>
<line x1="393.30" y1="488.00" x2="404.50" y2="488.00" stroke="#1e8a1e" stroke-width="1.6"/>
<line x1="393.30" y1="563.60" x2="404.50" y2="563.60" stroke="#1e8a1e" stroke-width="1.6"/>
<rect x="388.20" y="507.00" width="21.40" height="39.90" fill="#b9e3d3" stroke="#1e8a1e" stroke-width="1.6"/>
<line x1="388.20" y1="531.20" x2="409.60" y2="531.20" stroke="#1e8a1e" stroke-width="1.6"/>
<circle cx="445.4" cy="522.7" r="2.0" fill="#2b2b2b"/><circle cx="449.6" cy="522.4" r="2.0" fill="#2b2b2b"/><circle cx="452.3" cy="521.8" r="2.0" fill="#2b2b2b"/><circle cx="455.1" cy="522.9" r="2.0" fill="#2b2b2b"/><circle cx="458.7" cy="522.8" r="2.0" fill="#2b2b2b"/><circle cx="462.0" cy="522.1" r="2.0" fill="#2b2b2b"/><circle cx="464.0" cy="522.0" r="2.0" fill="#2b2b2b"/><circle cx="447.6" cy="525.5" r="2.0" fill="#2b2b2b"/><circle cx="451.2" cy="525.6" r="2.0" fill="#2b2b2b"/><circle cx="453.9" cy="525.6" r="2.0" fill="#2b2b2b"/><circle cx="456.7" cy="525.4" r="2.0" fill="#2b2b2b"/><circle cx="459.3" cy="525.6" r="2.0" fill="#2b2b2b"/><circle cx="462.6" cy="525.8" r="2.0" fill="#2b2b2b"/><circle cx="448.5" cy="576.6" r="2.0" fill="#2b2b2b"/><circle cx="452.3" cy="575.9" r="2.0" fill="#2b2b2b"/><circle cx="457.0" cy="575.4" r="2.0" fill="#2b2b2b"/><circle cx="461.6" cy="576.6" r="2.0" fill="#2b2b2b"/><circle cx="447.0" cy="581.3" r="2.0" fill="#2b2b2b"/><circle cx="451.6" cy="580.5" r="2.0" fill="#2b2b2b"/><circle cx="455.4" cy="579.7" r="2.0" fill="#2b2b2b"/><circle cx="459.3" cy="581.3" r="2.0" fill="#2b2b2b"/><circle cx="463.0" cy="580.5" r="2.0" fill="#2b2b2b"/><circle cx="451.6" cy="584.6" r="2.0" fill="#2b2b2b"/><circle cx="457.0" cy="582.8" r="2.0" fill="#2b2b2b"/><circle cx="453.5" cy="578.0" r="2.0" fill="#2b2b2b"/>
<line x1="455.30" y1="524.00" x2="455.30" y2="540.90" stroke="#2f2f2f" stroke-width="1.6"/>
<line x1="455.30" y1="565.00" x2="455.30" y2="575.40" stroke="#2f2f2f" stroke-width="1.6"/>
<line x1="449.70" y1="524.00" x2="460.90" y2="524.00" stroke="#2f2f2f" stroke-width="1.6"/>
<line x1="449.70" y1="575.40" x2="460.90" y2="575.40" stroke="#2f2f2f" stroke-width="1.6"/>
<rect x="444.60" y="541.70" width="21.40" height="22.50" fill="#d3d3d3" stroke="#2f2f2f" stroke-width="1.6"/>
<line x1="444.60" y1="552.20" x2="466.00" y2="552.20" stroke="#2f2f2f" stroke-width="1.6"/>
<circle cx="486.8" cy="471.7" r="2.0" fill="#2b2b2b"/><circle cx="486.8" cy="490.9" r="2.0" fill="#2b2b2b"/><circle cx="490.9" cy="490.0" r="2.0" fill="#2b2b2b"/><circle cx="482.9" cy="496.9" r="2.0" fill="#2b2b2b"/><circle cx="486.8" cy="497.8" r="2.0" fill="#2b2b2b"/><circle cx="490.9" cy="497.3" r="2.0" fill="#2b2b2b"/><circle cx="494.4" cy="498.7" r="2.0" fill="#2b2b2b"/><circle cx="482.9" cy="501.5" r="2.0" fill="#2b2b2b"/><circle cx="478.7" cy="505.7" r="2.0" fill="#2b2b2b"/><circle cx="483.3" cy="505.2" r="2.0" fill="#2b2b2b"/><circle cx="486.8" cy="503.8" r="2.0" fill="#2b2b2b"/><circle cx="491.2" cy="504.7" r="2.0" fill="#2b2b2b"/><circle cx="494.4" cy="504.7" r="2.0" fill="#2b2b2b"/><circle cx="498.6" cy="504.7" r="2.0" fill="#2b2b2b"/><circle cx="487.0" cy="507.0" r="2.0" fill="#2b2b2b"/><circle cx="479.3" cy="569.2" r="2.0" fill="#2b2b2b"/><circle cx="482.4" cy="566.6" r="2.0" fill="#2b2b2b"/><circle cx="486.2" cy="571.2" r="2.0" fill="#2b2b2b"/><circle cx="490.0" cy="571.2" r="2.0" fill="#2b2b2b"/><circle cx="494.7" cy="567.4" r="2.0" fill="#2b2b2b"/><circle cx="494.7" cy="571.2" r="2.0" fill="#2b2b2b"/><circle cx="482.4" cy="572.0" r="2.0" fill="#2b2b2b"/><circle cx="482.4" cy="575.9" r="2.0" fill="#2b2b2b"/><circle cx="486.2" cy="575.4" r="2.0" fill="#2b2b2b"/><circle cx="490.8" cy="575.4" r="2.0" fill="#2b2b2b"/><circle cx="494.7" cy="575.4" r="2.0" fill="#2b2b2b"/><circle cx="486.2" cy="580.5" r="2.0" fill="#2b2b2b"/><circle cx="490.8" cy="579.0" r="2.0" fill="#2b2b2b"/><circle cx="482.4" cy="565.8" r="2.0" fill="#2b2b2b"/><circle cx="490.8" cy="565.5" r="2.0" fill="#2b2b2b"/><circle cx="486.5" cy="565.0" r="2.0" fill="#2b2b2b"/>
<line x1="488.70" y1="505.00" x2="488.70" y2="521.50" stroke="#2f2f2f" stroke-width="1.6"/>
<line x1="488.70" y1="553.20" x2="488.70" y2="564.30" stroke="#2f2f2f" stroke-width="1.6"/>
<line x1="483.10" y1="505.00" x2="494.30" y2="505.00" stroke="#2f2f2f" stroke-width="1.6"/>
<line x1="483.10" y1="564.30" x2="494.30" y2="564.30" stroke="#2f2f2f" stroke-width="1.6"/>
<rect x="478.00" y="522.30" width="21.40" height="30.10" fill="#d3d3d3" stroke="#2f2f2f" stroke-width="1.6"/>
<line x1="478.00" y1="537.40" x2="499.40" y2="537.40" stroke="#2f2f2f" stroke-width="1.6"/>
<circle cx="522.6" cy="483.0" r="2.0" fill="#2b2b2b"/><circle cx="519.8" cy="492.3" r="2.0" fill="#2b2b2b"/><circle cx="523.1" cy="491.8" r="2.0" fill="#2b2b2b"/><circle cx="525.8" cy="491.8" r="2.0" fill="#2b2b2b"/><circle cx="529.1" cy="491.8" r="2.0" fill="#2b2b2b"/><circle cx="525.4" cy="495.0" r="2.0" fill="#2b2b2b"/><circle cx="519.4" cy="498.7" r="2.0" fill="#2b2b2b"/><circle cx="523.1" cy="499.7" r="2.0" fill="#2b2b2b"/><circle cx="525.8" cy="499.2" r="2.0" fill="#2b2b2b"/><circle cx="516.1" cy="503.8" r="2.0" fill="#2b2b2b"/><circle cx="519.4" cy="502.9" r="2.0" fill="#2b2b2b"/><circle cx="525.8" cy="503.4" r="2.0" fill="#2b2b2b"/><circle cx="529.5" cy="505.2" r="2.0" fill="#2b2b2b"/><circle cx="521.2" cy="505.7" r="2.0" fill="#2b2b2b"/><circle cx="517.0" cy="506.0" r="2.0" fill="#2b2b2b"/><circle cx="525.0" cy="506.0" r="2.0" fill="#2b2b2b"/><circle cx="513.6" cy="565.7" r="2.0" fill="#2b2b2b"/><circle cx="517.2" cy="565.2" r="2.0" fill="#2b2b2b"/><circle cx="520.7" cy="564.9" r="2.0" fill="#2b2b2b"/><circle cx="524.3" cy="565.1" r="2.0" fill="#2b2b2b"/><circle cx="527.8" cy="565.7" r="2.0" fill="#2b2b2b"/><circle cx="531.4" cy="565.8" r="2.0" fill="#2b2b2b"/><circle cx="515.6" cy="567.4" r="2.0" fill="#2b2b2b"/><circle cx="519.0" cy="567.3" r="2.0" fill="#2b2b2b"/><circle cx="522.5" cy="568.0" r="2.0" fill="#2b2b2b"/><circle cx="526.0" cy="568.1" r="2.0" fill="#2b2b2b"/><circle cx="529.4" cy="567.8" r="2.0" fill="#2b2b2b"/><circle cx="512.9" cy="574.0" r="2.0" fill="#2b2b2b"/><circle cx="519.4" cy="574.0" r="2.0" fill="#2b2b2b"/><circle cx="523.2" cy="573.5" r="2.0" fill="#2b2b2b"/><circle cx="527.0" cy="574.0" r="2.0" fill="#2b2b2b"/><circle cx="531.0" cy="574.0" r="2.0" fill="#2b2b2b"/>
<line x1="522.55" y1="505.00" x2="522.55" y2="518.90" stroke="#2f2f2f" stroke-width="1.6"/>
<line x1="522.55" y1="551.70" x2="522.55" y2="565.00" stroke="#2f2f2f" stroke-width="1.6"/>
<line x1="516.95" y1="505.00" x2="528.15" y2="505.00" stroke="#2f2f2f" stroke-width="1.6"/>
<line x1="516.95" y1="565.00" x2="528.15" y2="565.00" stroke="#2f2f2f" stroke-width="1.6"/>
<rect x="511.85" y="519.70" width="21.40" height="31.20" fill="#d3d3d3" stroke="#2f2f2f" stroke-width="1.6"/>
<line x1="511.85" y1="534.60" x2="533.25" y2="534.60" stroke="#2f2f2f" stroke-width="1.6"/>
</svg></body></html>
